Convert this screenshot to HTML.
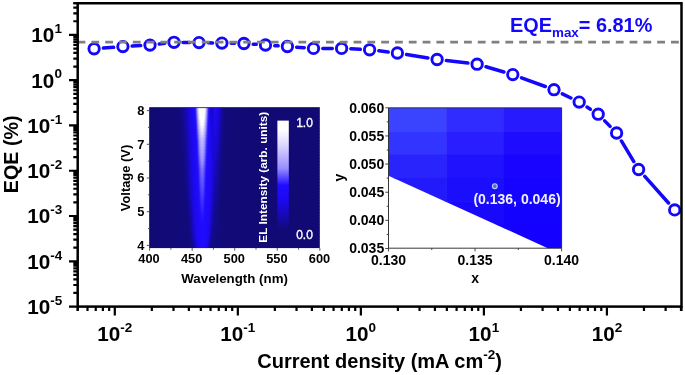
<!DOCTYPE html>
<html><head><meta charset="utf-8"><title>EQE vs current density</title>
<style>html,body{margin:0;padding:0;background:#fff}svg{display:block}text{font-kerning:normal}</style>
</head><body>
<svg width="685" height="375" viewBox="0 0 685 375" font-family='"Liberation Sans", Arial, Helvetica, sans-serif' font-weight="bold">
<rect width="685" height="375" fill="#fff"/>
<path d="M69.00 306.58H77.70M73.30 292.95H77.70M73.30 284.98H77.70M73.30 279.32H77.70M73.30 274.93H77.70M73.30 271.35H77.70M73.30 268.31H77.70M73.30 265.69H77.70M73.30 263.37H77.70M69.00 261.30H77.70M73.30 247.67H77.70M73.30 239.70H77.70M73.30 234.04H77.70M73.30 229.65H77.70M73.30 226.07H77.70M73.30 223.03H77.70M73.30 220.41H77.70M73.30 218.09H77.70M69.00 216.02H77.70M73.30 202.39H77.70M73.30 194.42H77.70M73.30 188.76H77.70M73.30 184.37H77.70M73.30 180.79H77.70M73.30 177.75H77.70M73.30 175.13H77.70M73.30 172.81H77.70M69.00 170.74H77.70M73.30 157.11H77.70M73.30 149.14H77.70M73.30 143.48H77.70M73.30 139.09H77.70M73.30 135.51H77.70M73.30 132.47H77.70M73.30 129.85H77.70M73.30 127.53H77.70M69.00 125.46H77.70M73.30 111.83H77.70M73.30 103.86H77.70M73.30 98.20H77.70M73.30 93.81H77.70M73.30 90.23H77.70M73.30 87.19H77.70M73.30 84.57H77.70M73.30 82.25H77.70M69.00 80.18H77.70M73.30 66.55H77.70M73.30 58.58H77.70M73.30 52.92H77.70M73.30 48.53H77.70M73.30 44.95H77.70M73.30 41.91H77.70M73.30 39.29H77.70M73.30 36.97H77.70M69.00 34.90H77.70M73.30 21.27H77.70M73.30 13.30H77.70M73.30 7.64H77.70M73.30 3.25H77.70M77.76 306.60V311.10M87.51 306.60V311.10M95.74 306.60V311.10M102.88 306.60V311.10M109.17 306.60V311.10M114.80 306.60V315.60M151.84 306.60V311.10M173.50 306.60V311.10M188.87 306.60V311.10M200.79 306.60V311.10M210.54 306.60V311.10M218.77 306.60V311.10M225.91 306.60V311.10M232.20 306.60V311.10M237.83 306.60V315.60M274.87 306.60V311.10M296.53 306.60V311.10M311.90 306.60V311.10M323.82 306.60V311.10M333.57 306.60V311.10M341.80 306.60V311.10M348.94 306.60V311.10M355.23 306.60V311.10M360.86 306.60V315.60M397.90 306.60V311.10M419.56 306.60V311.10M434.93 306.60V311.10M446.85 306.60V311.10M456.60 306.60V311.10M464.83 306.60V311.10M471.97 306.60V311.10M478.26 306.60V311.10M483.89 306.60V315.60M520.93 306.60V311.10M542.59 306.60V311.10M557.96 306.60V311.10M569.88 306.60V311.10M579.63 306.60V311.10M587.86 306.60V311.10M595.00 306.60V311.10M601.29 306.60V311.10M606.92 306.60V315.60M643.96 306.60V311.10M665.62 306.60V311.10M680.99 306.60V311.10" stroke="#000" stroke-width="2.2" fill="none"/>
<path d="M103.37 48.09L113.63 47.31M132.19 46.09L140.71 45.61M159.24 44.02L164.76 43.38M183.30 42.41L189.70 42.49M208.30 42.80L212.60 42.90M231.20 43.27L234.60 43.33M253.18 44.14L256.22 44.36M274.78 45.64L278.12 45.86M296.68 47.18L304.22 47.72M322.80 48.40L332.30 48.40M350.89 48.86L360.31 49.34M378.84 50.86L388.16 51.94M406.58 54.50L427.92 58.00M446.34 60.59L467.86 63.11M486.03 66.80L503.87 72.00M521.53 77.80L545.27 86.50M562.34 93.81L570.86 97.99M587.04 107.10L590.36 109.20M604.71 120.85L610.09 126.35M621.40 140.97L633.80 161.53M644.80 176.43L668.50 202.97" stroke="#1408fa" stroke-width="3.5" stroke-linecap="round" fill="none"/>
<g fill="#fff" stroke="#1408fa" stroke-width="2.9">
<circle cx="94.1" cy="48.8" r="5.2"/>
<circle cx="122.9" cy="46.6" r="5.2"/>
<circle cx="150.0" cy="45.1" r="5.2"/>
<circle cx="174.0" cy="42.3" r="5.2"/>
<circle cx="199.0" cy="42.6" r="5.2"/>
<circle cx="221.9" cy="43.1" r="5.2"/>
<circle cx="243.9" cy="43.5" r="5.2"/>
<circle cx="265.5" cy="45.0" r="5.2"/>
<circle cx="287.4" cy="46.5" r="5.2"/>
<circle cx="313.5" cy="48.4" r="5.2"/>
<circle cx="341.6" cy="48.4" r="5.2"/>
<circle cx="369.6" cy="49.8" r="5.2"/>
<circle cx="397.4" cy="53.0" r="5.2"/>
<circle cx="437.1" cy="59.5" r="5.2"/>
<circle cx="477.1" cy="64.2" r="5.2"/>
<circle cx="512.8" cy="74.6" r="5.2"/>
<circle cx="554.0" cy="89.7" r="5.2"/>
<circle cx="579.2" cy="102.1" r="5.2"/>
<circle cx="598.2" cy="114.2" r="5.2"/>
<circle cx="616.6" cy="133.0" r="5.2"/>
<circle cx="638.6" cy="169.5" r="5.2"/>
<circle cx="674.7" cy="209.9" r="5.2"/>
</g>
<path d="M77.6 42.05H681.5" stroke="#808080" stroke-width="2.8" stroke-dasharray="7.8 6" fill="none"/>
<rect x="77.7" y="3.25" width="603.80" height="303.35" fill="none" stroke="#000" stroke-width="2.5"/>
<path d="M77.7 306.6V311.1M681.5 306.6V311.1M77.7 3.25H73.3" stroke="#000" stroke-width="2.2"/>
<text x="62.30" y="313.98" font-size="20.7" text-anchor="end">10<tspan font-size="13.5" dy="-9.1">-5</tspan></text>
<text x="62.30" y="268.70" font-size="20.7" text-anchor="end">10<tspan font-size="13.5" dy="-9.1">-4</tspan></text>
<text x="62.30" y="223.42" font-size="20.7" text-anchor="end">10<tspan font-size="13.5" dy="-9.1">-3</tspan></text>
<text x="62.30" y="178.14" font-size="20.7" text-anchor="end">10<tspan font-size="13.5" dy="-9.1">-2</tspan></text>
<text x="62.30" y="132.86" font-size="20.7" text-anchor="end">10<tspan font-size="13.5" dy="-9.1">-1</tspan></text>
<text x="61.90" y="87.58" font-size="20.7" text-anchor="end">10<tspan font-size="13.5" dy="-9.1">0</tspan></text>
<text x="61.90" y="42.30" font-size="20.7" text-anchor="end">10<tspan font-size="13.5" dy="-9.1">1</tspan></text>
<text x="114.80" y="341.00" font-size="20.7" text-anchor="middle">10<tspan font-size="13.5" dy="-9.1">-2</tspan></text>
<text x="237.83" y="341.00" font-size="20.7" text-anchor="middle">10<tspan font-size="13.5" dy="-9.1">-1</tspan></text>
<text x="360.86" y="341.00" font-size="20.7" text-anchor="middle">10<tspan font-size="13.5" dy="-9.1">0</tspan></text>
<text x="483.89" y="341.00" font-size="20.7" text-anchor="middle">10<tspan font-size="13.5" dy="-9.1">1</tspan></text>
<text x="606.92" y="341.00" font-size="20.7" text-anchor="middle">10<tspan font-size="13.5" dy="-9.1">2</tspan></text>
<text x="379.6" y="367.8" font-size="20" text-anchor="middle">Current density (mA cm<tspan font-size="13.5" dy="-9">-2</tspan><tspan dy="9">)</tspan></text>
<text transform="translate(17.7 154.3) rotate(-90)" font-size="19.7" text-anchor="middle">EQE (%)</text>
<text x="510.0" y="32.1" font-size="19.9" fill="#1408fa">EQE<tspan font-size="13.4" dy="4.8">max</tspan><tspan dy="-4.8">= 6.81%</tspan></text>
<defs><linearGradient id="h0" gradientUnits="userSpaceOnUse" x1="149.6" x2="319.8" y1="0" y2="0"><stop offset="0.000" stop-color="#110a75"/><stop offset="0.061" stop-color="#110a76"/><stop offset="0.120" stop-color="#110a77"/><stop offset="0.155" stop-color="#110a78"/><stop offset="0.161" stop-color="#110a78"/><stop offset="0.167" stop-color="#110a79"/><stop offset="0.173" stop-color="#110a7d"/><stop offset="0.179" stop-color="#120a81"/><stop offset="0.184" stop-color="#120a87"/><stop offset="0.190" stop-color="#13098e"/><stop offset="0.196" stop-color="#140996"/><stop offset="0.202" stop-color="#1509a0"/><stop offset="0.208" stop-color="#1609ab"/><stop offset="0.214" stop-color="#1709b7"/><stop offset="0.220" stop-color="#1809c3"/><stop offset="0.226" stop-color="#1908cf"/><stop offset="0.231" stop-color="#1a08db"/><stop offset="0.237" stop-color="#1b08e5"/><stop offset="0.243" stop-color="#1c08ec"/><stop offset="0.249" stop-color="#1d09ef"/><stop offset="0.255" stop-color="#1e0af3"/><stop offset="0.261" stop-color="#1e0af7"/><stop offset="0.267" stop-color="#200cfd"/><stop offset="0.273" stop-color="#4d3dff"/><stop offset="0.278" stop-color="#9b92ff"/><stop offset="0.284" stop-color="#ccc6ff"/><stop offset="0.290" stop-color="#fbfaff"/><stop offset="0.296" stop-color="#ffffff"/><stop offset="0.302" stop-color="#ffffff"/><stop offset="0.308" stop-color="#ffffff"/><stop offset="0.314" stop-color="#ffffff"/><stop offset="0.320" stop-color="#ffffff"/><stop offset="0.325" stop-color="#fcfcff"/><stop offset="0.331" stop-color="#cec8ff"/><stop offset="0.337" stop-color="#9d94ff"/><stop offset="0.343" stop-color="#4b3aff"/><stop offset="0.349" stop-color="#1f0bfa"/><stop offset="0.355" stop-color="#1d09ef"/><stop offset="0.361" stop-color="#1a08d2"/><stop offset="0.367" stop-color="#1609af"/><stop offset="0.373" stop-color="#1b08e0"/><stop offset="0.378" stop-color="#1e0af3"/><stop offset="0.384" stop-color="#1e0af6"/><stop offset="0.390" stop-color="#1e0af4"/><stop offset="0.396" stop-color="#1d09f0"/><stop offset="0.402" stop-color="#1c08e9"/><stop offset="0.408" stop-color="#1a08d6"/><stop offset="0.414" stop-color="#1809c2"/><stop offset="0.420" stop-color="#1609af"/><stop offset="0.425" stop-color="#15099e"/><stop offset="0.431" stop-color="#130990"/><stop offset="0.437" stop-color="#120a86"/><stop offset="0.443" stop-color="#120a7e"/><stop offset="0.449" stop-color="#110a79"/><stop offset="0.455" stop-color="#110a78"/><stop offset="0.461" stop-color="#110a78"/><stop offset="0.467" stop-color="#110a78"/><stop offset="0.472" stop-color="#110a78"/><stop offset="0.478" stop-color="#110a78"/><stop offset="0.508" stop-color="#110a77"/><stop offset="0.561" stop-color="#110a76"/><stop offset="0.649" stop-color="#110a75"/><stop offset="0.766" stop-color="#110a75"/><stop offset="0.884" stop-color="#110a74"/><stop offset="1.000" stop-color="#110a74"/></linearGradient><linearGradient id="h1" gradientUnits="userSpaceOnUse" x1="149.6" x2="319.8" y1="0" y2="0"><stop offset="0.000" stop-color="#110a75"/><stop offset="0.061" stop-color="#110a76"/><stop offset="0.120" stop-color="#110a77"/><stop offset="0.155" stop-color="#110a78"/><stop offset="0.161" stop-color="#110a78"/><stop offset="0.167" stop-color="#110a78"/><stop offset="0.173" stop-color="#110a7c"/><stop offset="0.179" stop-color="#120a80"/><stop offset="0.184" stop-color="#120a86"/><stop offset="0.190" stop-color="#130a8c"/><stop offset="0.196" stop-color="#140994"/><stop offset="0.202" stop-color="#15099e"/><stop offset="0.208" stop-color="#1609a9"/><stop offset="0.214" stop-color="#1709b4"/><stop offset="0.220" stop-color="#1809c1"/><stop offset="0.226" stop-color="#1908cd"/><stop offset="0.231" stop-color="#1a08d9"/><stop offset="0.237" stop-color="#1b08e4"/><stop offset="0.243" stop-color="#1c08ec"/><stop offset="0.249" stop-color="#1d09ef"/><stop offset="0.255" stop-color="#1d09f2"/><stop offset="0.261" stop-color="#1e0af6"/><stop offset="0.267" stop-color="#1f0bfc"/><stop offset="0.273" stop-color="#4433ff"/><stop offset="0.278" stop-color="#948aff"/><stop offset="0.284" stop-color="#c3bcff"/><stop offset="0.290" stop-color="#f1efff"/><stop offset="0.296" stop-color="#ffffff"/><stop offset="0.302" stop-color="#ffffff"/><stop offset="0.308" stop-color="#ffffff"/><stop offset="0.314" stop-color="#ffffff"/><stop offset="0.320" stop-color="#ffffff"/><stop offset="0.325" stop-color="#f2f1ff"/><stop offset="0.331" stop-color="#c5beff"/><stop offset="0.337" stop-color="#978dff"/><stop offset="0.343" stop-color="#4433ff"/><stop offset="0.349" stop-color="#1f0bfa"/><stop offset="0.355" stop-color="#1d09ef"/><stop offset="0.361" stop-color="#1a08d6"/><stop offset="0.367" stop-color="#1709b3"/><stop offset="0.373" stop-color="#1b08df"/><stop offset="0.378" stop-color="#1d09f2"/><stop offset="0.384" stop-color="#1e0af4"/><stop offset="0.390" stop-color="#1d09f2"/><stop offset="0.396" stop-color="#1d09ee"/><stop offset="0.402" stop-color="#1b08e5"/><stop offset="0.408" stop-color="#1a08d2"/><stop offset="0.414" stop-color="#1809be"/><stop offset="0.420" stop-color="#1609ac"/><stop offset="0.425" stop-color="#14099b"/><stop offset="0.431" stop-color="#13098e"/><stop offset="0.437" stop-color="#120a84"/><stop offset="0.443" stop-color="#110a7d"/><stop offset="0.449" stop-color="#110a78"/><stop offset="0.455" stop-color="#110a78"/><stop offset="0.461" stop-color="#110a78"/><stop offset="0.467" stop-color="#110a78"/><stop offset="0.472" stop-color="#110a78"/><stop offset="0.478" stop-color="#110a78"/><stop offset="0.508" stop-color="#110a77"/><stop offset="0.561" stop-color="#110a76"/><stop offset="0.649" stop-color="#110a75"/><stop offset="0.766" stop-color="#110a75"/><stop offset="0.884" stop-color="#110a74"/><stop offset="1.000" stop-color="#110a74"/></linearGradient><linearGradient id="h2" gradientUnits="userSpaceOnUse" x1="149.6" x2="319.8" y1="0" y2="0"><stop offset="0.000" stop-color="#110a75"/><stop offset="0.061" stop-color="#110a76"/><stop offset="0.120" stop-color="#110a77"/><stop offset="0.155" stop-color="#110a78"/><stop offset="0.161" stop-color="#110a78"/><stop offset="0.167" stop-color="#110a78"/><stop offset="0.173" stop-color="#110a7b"/><stop offset="0.179" stop-color="#120a7f"/><stop offset="0.184" stop-color="#120a84"/><stop offset="0.190" stop-color="#130a8b"/><stop offset="0.196" stop-color="#140992"/><stop offset="0.202" stop-color="#14099c"/><stop offset="0.208" stop-color="#1509a6"/><stop offset="0.214" stop-color="#1709b2"/><stop offset="0.220" stop-color="#1809bf"/><stop offset="0.226" stop-color="#1909cb"/><stop offset="0.231" stop-color="#1a08d7"/><stop offset="0.237" stop-color="#1b08e3"/><stop offset="0.243" stop-color="#1c08ec"/><stop offset="0.249" stop-color="#1d09ef"/><stop offset="0.255" stop-color="#1d09f2"/><stop offset="0.261" stop-color="#1e0af6"/><stop offset="0.267" stop-color="#1f0bfb"/><stop offset="0.273" stop-color="#3b29ff"/><stop offset="0.278" stop-color="#857aff"/><stop offset="0.284" stop-color="#b9b2ff"/><stop offset="0.290" stop-color="#e7e3ff"/><stop offset="0.296" stop-color="#ffffff"/><stop offset="0.302" stop-color="#ffffff"/><stop offset="0.308" stop-color="#ffffff"/><stop offset="0.314" stop-color="#ffffff"/><stop offset="0.320" stop-color="#ffffff"/><stop offset="0.325" stop-color="#e9e5ff"/><stop offset="0.331" stop-color="#bcb5ff"/><stop offset="0.337" stop-color="#8b81ff"/><stop offset="0.343" stop-color="#3d2cff"/><stop offset="0.349" stop-color="#1f0bfa"/><stop offset="0.355" stop-color="#1d09f0"/><stop offset="0.361" stop-color="#1a08da"/><stop offset="0.367" stop-color="#1709b8"/><stop offset="0.373" stop-color="#1b08df"/><stop offset="0.378" stop-color="#1d09f1"/><stop offset="0.384" stop-color="#1e0af3"/><stop offset="0.390" stop-color="#1d09f1"/><stop offset="0.396" stop-color="#1c08ed"/><stop offset="0.402" stop-color="#1b08e1"/><stop offset="0.408" stop-color="#1908ce"/><stop offset="0.414" stop-color="#1709bb"/><stop offset="0.420" stop-color="#1609a9"/><stop offset="0.425" stop-color="#140999"/><stop offset="0.431" stop-color="#130a8d"/><stop offset="0.437" stop-color="#120a83"/><stop offset="0.443" stop-color="#110a7c"/><stop offset="0.449" stop-color="#110a78"/><stop offset="0.455" stop-color="#110a78"/><stop offset="0.461" stop-color="#110a78"/><stop offset="0.467" stop-color="#110a78"/><stop offset="0.472" stop-color="#110a78"/><stop offset="0.478" stop-color="#110a78"/><stop offset="0.508" stop-color="#110a77"/><stop offset="0.561" stop-color="#110a76"/><stop offset="0.649" stop-color="#110a75"/><stop offset="0.766" stop-color="#110a75"/><stop offset="0.884" stop-color="#110a74"/><stop offset="1.000" stop-color="#110a74"/></linearGradient><linearGradient id="h3" gradientUnits="userSpaceOnUse" x1="149.6" x2="319.8" y1="0" y2="0"><stop offset="0.000" stop-color="#110a75"/><stop offset="0.061" stop-color="#110a76"/><stop offset="0.120" stop-color="#110a77"/><stop offset="0.155" stop-color="#110a78"/><stop offset="0.161" stop-color="#110a78"/><stop offset="0.167" stop-color="#110a78"/><stop offset="0.173" stop-color="#110a7a"/><stop offset="0.179" stop-color="#120a7e"/><stop offset="0.184" stop-color="#120a83"/><stop offset="0.190" stop-color="#130a89"/><stop offset="0.196" stop-color="#130991"/><stop offset="0.202" stop-color="#14099a"/><stop offset="0.208" stop-color="#1509a4"/><stop offset="0.214" stop-color="#1609b0"/><stop offset="0.220" stop-color="#1809bc"/><stop offset="0.226" stop-color="#1909c9"/><stop offset="0.231" stop-color="#1a08d5"/><stop offset="0.237" stop-color="#1b08e1"/><stop offset="0.243" stop-color="#1c08eb"/><stop offset="0.249" stop-color="#1d09ee"/><stop offset="0.255" stop-color="#1d09f1"/><stop offset="0.261" stop-color="#1e0af5"/><stop offset="0.267" stop-color="#1f0bfa"/><stop offset="0.273" stop-color="#3220ff"/><stop offset="0.278" stop-color="#776aff"/><stop offset="0.284" stop-color="#b0a8ff"/><stop offset="0.290" stop-color="#ddd8ff"/><stop offset="0.296" stop-color="#fefeff"/><stop offset="0.302" stop-color="#ffffff"/><stop offset="0.308" stop-color="#ffffff"/><stop offset="0.314" stop-color="#ffffff"/><stop offset="0.320" stop-color="#ffffff"/><stop offset="0.325" stop-color="#dfdaff"/><stop offset="0.331" stop-color="#b3abff"/><stop offset="0.337" stop-color="#7e72ff"/><stop offset="0.343" stop-color="#3725ff"/><stop offset="0.349" stop-color="#1f0bf9"/><stop offset="0.355" stop-color="#1d09f0"/><stop offset="0.361" stop-color="#1b08dd"/><stop offset="0.367" stop-color="#1709bc"/><stop offset="0.373" stop-color="#1b08de"/><stop offset="0.378" stop-color="#1d09f0"/><stop offset="0.384" stop-color="#1d09f2"/><stop offset="0.390" stop-color="#1d09ef"/><stop offset="0.396" stop-color="#1c08eb"/><stop offset="0.402" stop-color="#1b08dc"/><stop offset="0.408" stop-color="#1909ca"/><stop offset="0.414" stop-color="#1709b8"/><stop offset="0.420" stop-color="#1509a6"/><stop offset="0.425" stop-color="#140997"/><stop offset="0.431" stop-color="#130a8b"/><stop offset="0.437" stop-color="#120a82"/><stop offset="0.443" stop-color="#110a7c"/><stop offset="0.449" stop-color="#110a78"/><stop offset="0.455" stop-color="#110a78"/><stop offset="0.461" stop-color="#110a78"/><stop offset="0.467" stop-color="#110a78"/><stop offset="0.472" stop-color="#110a78"/><stop offset="0.478" stop-color="#110a78"/><stop offset="0.508" stop-color="#110a77"/><stop offset="0.561" stop-color="#110a76"/><stop offset="0.649" stop-color="#110a75"/><stop offset="0.766" stop-color="#110a75"/><stop offset="0.884" stop-color="#110a74"/><stop offset="1.000" stop-color="#110a74"/></linearGradient><linearGradient id="h4" gradientUnits="userSpaceOnUse" x1="149.6" x2="319.8" y1="0" y2="0"><stop offset="0.000" stop-color="#110a75"/><stop offset="0.061" stop-color="#110a76"/><stop offset="0.120" stop-color="#110a77"/><stop offset="0.155" stop-color="#110a78"/><stop offset="0.161" stop-color="#110a78"/><stop offset="0.167" stop-color="#110a78"/><stop offset="0.173" stop-color="#110a79"/><stop offset="0.179" stop-color="#110a7d"/><stop offset="0.184" stop-color="#120a82"/><stop offset="0.190" stop-color="#120a88"/><stop offset="0.196" stop-color="#13098f"/><stop offset="0.202" stop-color="#140998"/><stop offset="0.208" stop-color="#1509a2"/><stop offset="0.214" stop-color="#1609ae"/><stop offset="0.220" stop-color="#1709ba"/><stop offset="0.226" stop-color="#1909c7"/><stop offset="0.231" stop-color="#1a08d4"/><stop offset="0.237" stop-color="#1b08df"/><stop offset="0.243" stop-color="#1c08ea"/><stop offset="0.249" stop-color="#1d09ee"/><stop offset="0.255" stop-color="#1d09f1"/><stop offset="0.261" stop-color="#1e0af5"/><stop offset="0.267" stop-color="#1f0bf9"/><stop offset="0.273" stop-color="#2a17ff"/><stop offset="0.278" stop-color="#695bff"/><stop offset="0.284" stop-color="#a69eff"/><stop offset="0.290" stop-color="#d0cbff"/><stop offset="0.296" stop-color="#f2f0ff"/><stop offset="0.302" stop-color="#ffffff"/><stop offset="0.308" stop-color="#ffffff"/><stop offset="0.314" stop-color="#ffffff"/><stop offset="0.320" stop-color="#f3f2ff"/><stop offset="0.325" stop-color="#d3cdff"/><stop offset="0.331" stop-color="#aaa1ff"/><stop offset="0.337" stop-color="#7164ff"/><stop offset="0.343" stop-color="#301eff"/><stop offset="0.349" stop-color="#1f0bf9"/><stop offset="0.355" stop-color="#1d09f1"/><stop offset="0.361" stop-color="#1b08e1"/><stop offset="0.367" stop-color="#1809c0"/><stop offset="0.373" stop-color="#1b08dd"/><stop offset="0.378" stop-color="#1d09ef"/><stop offset="0.384" stop-color="#1d09f0"/><stop offset="0.390" stop-color="#1d09ee"/><stop offset="0.396" stop-color="#1c08e8"/><stop offset="0.402" stop-color="#1a08d8"/><stop offset="0.408" stop-color="#1909c7"/><stop offset="0.414" stop-color="#1709b5"/><stop offset="0.420" stop-color="#1509a4"/><stop offset="0.425" stop-color="#140995"/><stop offset="0.431" stop-color="#130a8a"/><stop offset="0.437" stop-color="#120a81"/><stop offset="0.443" stop-color="#110a7b"/><stop offset="0.449" stop-color="#110a78"/><stop offset="0.455" stop-color="#110a78"/><stop offset="0.461" stop-color="#110a78"/><stop offset="0.467" stop-color="#110a78"/><stop offset="0.472" stop-color="#110a78"/><stop offset="0.478" stop-color="#110a78"/><stop offset="0.508" stop-color="#110a77"/><stop offset="0.561" stop-color="#110a76"/><stop offset="0.649" stop-color="#110a75"/><stop offset="0.766" stop-color="#110a75"/><stop offset="0.884" stop-color="#110a74"/><stop offset="1.000" stop-color="#110a74"/></linearGradient><linearGradient id="h5" gradientUnits="userSpaceOnUse" x1="149.6" x2="319.8" y1="0" y2="0"><stop offset="0.000" stop-color="#110a75"/><stop offset="0.061" stop-color="#110a76"/><stop offset="0.120" stop-color="#110a77"/><stop offset="0.155" stop-color="#110a78"/><stop offset="0.161" stop-color="#110a78"/><stop offset="0.167" stop-color="#110a78"/><stop offset="0.173" stop-color="#110a79"/><stop offset="0.179" stop-color="#110a7c"/><stop offset="0.184" stop-color="#120a80"/><stop offset="0.190" stop-color="#120a86"/><stop offset="0.196" stop-color="#130a8d"/><stop offset="0.202" stop-color="#140996"/><stop offset="0.208" stop-color="#1509a0"/><stop offset="0.214" stop-color="#1609ac"/><stop offset="0.220" stop-color="#1709b8"/><stop offset="0.226" stop-color="#1809c5"/><stop offset="0.231" stop-color="#1a08d2"/><stop offset="0.237" stop-color="#1b08de"/><stop offset="0.243" stop-color="#1c08e9"/><stop offset="0.249" stop-color="#1d09ee"/><stop offset="0.255" stop-color="#1d09f1"/><stop offset="0.261" stop-color="#1e0af4"/><stop offset="0.267" stop-color="#1f0bf9"/><stop offset="0.273" stop-color="#210dff"/><stop offset="0.278" stop-color="#5b4cff"/><stop offset="0.284" stop-color="#9d94ff"/><stop offset="0.290" stop-color="#c3bdff"/><stop offset="0.296" stop-color="#e6e2ff"/><stop offset="0.302" stop-color="#fafaff"/><stop offset="0.308" stop-color="#ffffff"/><stop offset="0.314" stop-color="#fbfaff"/><stop offset="0.320" stop-color="#e7e3ff"/><stop offset="0.325" stop-color="#c6c0ff"/><stop offset="0.331" stop-color="#a198ff"/><stop offset="0.337" stop-color="#6456ff"/><stop offset="0.343" stop-color="#2a17ff"/><stop offset="0.349" stop-color="#1f0bf9"/><stop offset="0.355" stop-color="#1d09f2"/><stop offset="0.361" stop-color="#1b08e4"/><stop offset="0.367" stop-color="#1809c4"/><stop offset="0.373" stop-color="#1b08dc"/><stop offset="0.378" stop-color="#1d09ee"/><stop offset="0.384" stop-color="#1d09ef"/><stop offset="0.390" stop-color="#1c08ed"/><stop offset="0.396" stop-color="#1b08e4"/><stop offset="0.402" stop-color="#1a08d5"/><stop offset="0.408" stop-color="#1809c3"/><stop offset="0.414" stop-color="#1609b2"/><stop offset="0.420" stop-color="#1509a1"/><stop offset="0.425" stop-color="#140993"/><stop offset="0.431" stop-color="#130a88"/><stop offset="0.437" stop-color="#120a80"/><stop offset="0.443" stop-color="#110a7a"/><stop offset="0.449" stop-color="#110a78"/><stop offset="0.455" stop-color="#110a78"/><stop offset="0.461" stop-color="#110a78"/><stop offset="0.467" stop-color="#110a78"/><stop offset="0.472" stop-color="#110a78"/><stop offset="0.478" stop-color="#110a78"/><stop offset="0.508" stop-color="#110a77"/><stop offset="0.561" stop-color="#110a76"/><stop offset="0.649" stop-color="#110a75"/><stop offset="0.766" stop-color="#110a75"/><stop offset="0.884" stop-color="#110a74"/><stop offset="1.000" stop-color="#110a74"/></linearGradient><linearGradient id="h6" gradientUnits="userSpaceOnUse" x1="149.6" x2="319.8" y1="0" y2="0"><stop offset="0.000" stop-color="#110a75"/><stop offset="0.061" stop-color="#110a76"/><stop offset="0.120" stop-color="#110a77"/><stop offset="0.155" stop-color="#110a78"/><stop offset="0.161" stop-color="#110a78"/><stop offset="0.167" stop-color="#110a78"/><stop offset="0.173" stop-color="#110a79"/><stop offset="0.179" stop-color="#110a7b"/><stop offset="0.184" stop-color="#120a7f"/><stop offset="0.190" stop-color="#120a85"/><stop offset="0.196" stop-color="#130a8c"/><stop offset="0.202" stop-color="#140994"/><stop offset="0.208" stop-color="#15099e"/><stop offset="0.214" stop-color="#1609a9"/><stop offset="0.220" stop-color="#1709b6"/><stop offset="0.226" stop-color="#1809c3"/><stop offset="0.231" stop-color="#1908d0"/><stop offset="0.237" stop-color="#1b08dc"/><stop offset="0.243" stop-color="#1c08e7"/><stop offset="0.249" stop-color="#1c08ed"/><stop offset="0.255" stop-color="#1d09f0"/><stop offset="0.261" stop-color="#1e0af4"/><stop offset="0.267" stop-color="#1f0bf8"/><stop offset="0.273" stop-color="#200cfe"/><stop offset="0.278" stop-color="#4f3fff"/><stop offset="0.284" stop-color="#968cff"/><stop offset="0.290" stop-color="#b9b2ff"/><stop offset="0.296" stop-color="#dcd7ff"/><stop offset="0.302" stop-color="#efedff"/><stop offset="0.308" stop-color="#f6f5ff"/><stop offset="0.314" stop-color="#f0eeff"/><stop offset="0.320" stop-color="#ddd8ff"/><stop offset="0.325" stop-color="#bcb5ff"/><stop offset="0.331" stop-color="#9a90ff"/><stop offset="0.337" stop-color="#5a4bff"/><stop offset="0.343" stop-color="#2511ff"/><stop offset="0.349" stop-color="#1f0bf9"/><stop offset="0.355" stop-color="#1d09f2"/><stop offset="0.361" stop-color="#1c08e8"/><stop offset="0.367" stop-color="#1909c9"/><stop offset="0.373" stop-color="#1a08da"/><stop offset="0.378" stop-color="#1c08ed"/><stop offset="0.384" stop-color="#1d09ee"/><stop offset="0.390" stop-color="#1c08eb"/><stop offset="0.396" stop-color="#1b08e0"/><stop offset="0.402" stop-color="#1908d1"/><stop offset="0.408" stop-color="#1809c0"/><stop offset="0.414" stop-color="#1609af"/><stop offset="0.420" stop-color="#15099f"/><stop offset="0.425" stop-color="#130991"/><stop offset="0.431" stop-color="#120a87"/><stop offset="0.437" stop-color="#120a7f"/><stop offset="0.443" stop-color="#110a79"/><stop offset="0.449" stop-color="#110a78"/><stop offset="0.455" stop-color="#110a78"/><stop offset="0.461" stop-color="#110a78"/><stop offset="0.467" stop-color="#110a78"/><stop offset="0.472" stop-color="#110a78"/><stop offset="0.478" stop-color="#110a78"/><stop offset="0.508" stop-color="#110a77"/><stop offset="0.561" stop-color="#110a76"/><stop offset="0.649" stop-color="#110a75"/><stop offset="0.766" stop-color="#110a75"/><stop offset="0.884" stop-color="#110a74"/><stop offset="1.000" stop-color="#110a74"/></linearGradient><linearGradient id="h7" gradientUnits="userSpaceOnUse" x1="149.6" x2="319.8" y1="0" y2="0"><stop offset="0.000" stop-color="#110a75"/><stop offset="0.061" stop-color="#110a76"/><stop offset="0.120" stop-color="#110a77"/><stop offset="0.155" stop-color="#110a78"/><stop offset="0.161" stop-color="#110a78"/><stop offset="0.167" stop-color="#110a78"/><stop offset="0.173" stop-color="#110a79"/><stop offset="0.179" stop-color="#110a7a"/><stop offset="0.184" stop-color="#120a7e"/><stop offset="0.190" stop-color="#120a83"/><stop offset="0.196" stop-color="#130a8a"/><stop offset="0.202" stop-color="#130992"/><stop offset="0.208" stop-color="#14099c"/><stop offset="0.214" stop-color="#1509a7"/><stop offset="0.220" stop-color="#1709b4"/><stop offset="0.226" stop-color="#1809c1"/><stop offset="0.231" stop-color="#1908ce"/><stop offset="0.237" stop-color="#1a08da"/><stop offset="0.243" stop-color="#1c08e6"/><stop offset="0.249" stop-color="#1c08ed"/><stop offset="0.255" stop-color="#1d09f0"/><stop offset="0.261" stop-color="#1e0af3"/><stop offset="0.267" stop-color="#1e0af7"/><stop offset="0.273" stop-color="#200cfd"/><stop offset="0.278" stop-color="#4635ff"/><stop offset="0.284" stop-color="#877cff"/><stop offset="0.290" stop-color="#b0a8ff"/><stop offset="0.296" stop-color="#d0caff"/><stop offset="0.302" stop-color="#e5e1ff"/><stop offset="0.308" stop-color="#ece9ff"/><stop offset="0.314" stop-color="#e6e2ff"/><stop offset="0.320" stop-color="#d2ccff"/><stop offset="0.325" stop-color="#b3abff"/><stop offset="0.331" stop-color="#9086ff"/><stop offset="0.337" stop-color="#5141ff"/><stop offset="0.343" stop-color="#210dff"/><stop offset="0.349" stop-color="#1f0bf9"/><stop offset="0.355" stop-color="#1e0af3"/><stop offset="0.361" stop-color="#1c08eb"/><stop offset="0.367" stop-color="#1908cd"/><stop offset="0.373" stop-color="#1a08d9"/><stop offset="0.378" stop-color="#1c08ec"/><stop offset="0.384" stop-color="#1c08ed"/><stop offset="0.390" stop-color="#1c08e8"/><stop offset="0.396" stop-color="#1b08dc"/><stop offset="0.402" stop-color="#1908cd"/><stop offset="0.408" stop-color="#1809bc"/><stop offset="0.414" stop-color="#1609ac"/><stop offset="0.420" stop-color="#14099c"/><stop offset="0.425" stop-color="#130990"/><stop offset="0.431" stop-color="#120a86"/><stop offset="0.437" stop-color="#120a7e"/><stop offset="0.443" stop-color="#110a79"/><stop offset="0.449" stop-color="#110a78"/><stop offset="0.455" stop-color="#110a78"/><stop offset="0.461" stop-color="#110a78"/><stop offset="0.467" stop-color="#110a78"/><stop offset="0.472" stop-color="#110a78"/><stop offset="0.478" stop-color="#110a78"/><stop offset="0.508" stop-color="#110a77"/><stop offset="0.561" stop-color="#110a76"/><stop offset="0.649" stop-color="#110a75"/><stop offset="0.766" stop-color="#110a75"/><stop offset="0.884" stop-color="#110a74"/><stop offset="1.000" stop-color="#110a74"/></linearGradient><linearGradient id="h8" gradientUnits="userSpaceOnUse" x1="149.6" x2="319.8" y1="0" y2="0"><stop offset="0.000" stop-color="#110a75"/><stop offset="0.061" stop-color="#110a76"/><stop offset="0.120" stop-color="#110a77"/><stop offset="0.155" stop-color="#110a78"/><stop offset="0.161" stop-color="#110a78"/><stop offset="0.167" stop-color="#110a78"/><stop offset="0.173" stop-color="#110a79"/><stop offset="0.179" stop-color="#110a79"/><stop offset="0.184" stop-color="#110a7d"/><stop offset="0.190" stop-color="#120a82"/><stop offset="0.196" stop-color="#130a88"/><stop offset="0.202" stop-color="#130990"/><stop offset="0.208" stop-color="#14099a"/><stop offset="0.214" stop-color="#1509a5"/><stop offset="0.220" stop-color="#1609b1"/><stop offset="0.226" stop-color="#1809be"/><stop offset="0.231" stop-color="#1908cc"/><stop offset="0.237" stop-color="#1a08d9"/><stop offset="0.243" stop-color="#1b08e5"/><stop offset="0.249" stop-color="#1c08ec"/><stop offset="0.255" stop-color="#1d09f0"/><stop offset="0.261" stop-color="#1e0af3"/><stop offset="0.267" stop-color="#1e0af7"/><stop offset="0.273" stop-color="#1f0bfc"/><stop offset="0.278" stop-color="#3c2aff"/><stop offset="0.284" stop-color="#786cff"/><stop offset="0.290" stop-color="#a79fff"/><stop offset="0.296" stop-color="#c5beff"/><stop offset="0.302" stop-color="#dbd6ff"/><stop offset="0.308" stop-color="#e1ddff"/><stop offset="0.314" stop-color="#dcd7ff"/><stop offset="0.320" stop-color="#c7c0ff"/><stop offset="0.325" stop-color="#aaa2ff"/><stop offset="0.331" stop-color="#8276ff"/><stop offset="0.337" stop-color="#4838ff"/><stop offset="0.343" stop-color="#200cfe"/><stop offset="0.349" stop-color="#1f0bf9"/><stop offset="0.355" stop-color="#1e0af3"/><stop offset="0.361" stop-color="#1c08ec"/><stop offset="0.367" stop-color="#1a08d1"/><stop offset="0.373" stop-color="#1a08d7"/><stop offset="0.378" stop-color="#1c08eb"/><stop offset="0.384" stop-color="#1c08eb"/><stop offset="0.390" stop-color="#1b08e4"/><stop offset="0.396" stop-color="#1a08d8"/><stop offset="0.402" stop-color="#1909c9"/><stop offset="0.408" stop-color="#1709b9"/><stop offset="0.414" stop-color="#1609a9"/><stop offset="0.420" stop-color="#14099a"/><stop offset="0.425" stop-color="#13098e"/><stop offset="0.431" stop-color="#120a84"/><stop offset="0.437" stop-color="#110a7d"/><stop offset="0.443" stop-color="#110a79"/><stop offset="0.449" stop-color="#110a78"/><stop offset="0.455" stop-color="#110a78"/><stop offset="0.461" stop-color="#110a78"/><stop offset="0.467" stop-color="#110a78"/><stop offset="0.472" stop-color="#110a78"/><stop offset="0.478" stop-color="#110a78"/><stop offset="0.508" stop-color="#110a77"/><stop offset="0.561" stop-color="#110a76"/><stop offset="0.649" stop-color="#110a75"/><stop offset="0.766" stop-color="#110a75"/><stop offset="0.884" stop-color="#110a74"/><stop offset="1.000" stop-color="#110a74"/></linearGradient><linearGradient id="h9" gradientUnits="userSpaceOnUse" x1="149.6" x2="319.8" y1="0" y2="0"><stop offset="0.000" stop-color="#110a75"/><stop offset="0.061" stop-color="#110a76"/><stop offset="0.120" stop-color="#110a77"/><stop offset="0.155" stop-color="#110a78"/><stop offset="0.161" stop-color="#110a78"/><stop offset="0.167" stop-color="#110a78"/><stop offset="0.173" stop-color="#110a79"/><stop offset="0.179" stop-color="#110a79"/><stop offset="0.184" stop-color="#110a7c"/><stop offset="0.190" stop-color="#120a81"/><stop offset="0.196" stop-color="#120a87"/><stop offset="0.202" stop-color="#13098e"/><stop offset="0.208" stop-color="#140998"/><stop offset="0.214" stop-color="#1509a3"/><stop offset="0.220" stop-color="#1609af"/><stop offset="0.226" stop-color="#1809bc"/><stop offset="0.231" stop-color="#1909ca"/><stop offset="0.237" stop-color="#1a08d7"/><stop offset="0.243" stop-color="#1b08e3"/><stop offset="0.249" stop-color="#1c08ec"/><stop offset="0.255" stop-color="#1d09ef"/><stop offset="0.261" stop-color="#1d09f2"/><stop offset="0.267" stop-color="#1e0af6"/><stop offset="0.273" stop-color="#1f0bfb"/><stop offset="0.278" stop-color="#3320ff"/><stop offset="0.284" stop-color="#695cff"/><stop offset="0.290" stop-color="#9e95ff"/><stop offset="0.296" stop-color="#b9b2ff"/><stop offset="0.302" stop-color="#cdc7ff"/><stop offset="0.308" stop-color="#d5d0ff"/><stop offset="0.314" stop-color="#cec8ff"/><stop offset="0.320" stop-color="#bbb4ff"/><stop offset="0.325" stop-color="#a298ff"/><stop offset="0.331" stop-color="#7467ff"/><stop offset="0.337" stop-color="#402eff"/><stop offset="0.343" stop-color="#200cfe"/><stop offset="0.349" stop-color="#1f0bf8"/><stop offset="0.355" stop-color="#1e0af3"/><stop offset="0.361" stop-color="#1c08ed"/><stop offset="0.367" stop-color="#1a08d5"/><stop offset="0.373" stop-color="#1a08d6"/><stop offset="0.378" stop-color="#1c08e8"/><stop offset="0.384" stop-color="#1c08e8"/><stop offset="0.390" stop-color="#1b08e0"/><stop offset="0.396" stop-color="#1a08d4"/><stop offset="0.402" stop-color="#1809c6"/><stop offset="0.408" stop-color="#1709b6"/><stop offset="0.414" stop-color="#1509a6"/><stop offset="0.420" stop-color="#140998"/><stop offset="0.425" stop-color="#130a8c"/><stop offset="0.431" stop-color="#120a83"/><stop offset="0.437" stop-color="#110a7c"/><stop offset="0.443" stop-color="#110a79"/><stop offset="0.449" stop-color="#110a78"/><stop offset="0.455" stop-color="#110a78"/><stop offset="0.461" stop-color="#110a78"/><stop offset="0.467" stop-color="#110a78"/><stop offset="0.472" stop-color="#110a78"/><stop offset="0.478" stop-color="#110a78"/><stop offset="0.508" stop-color="#110a77"/><stop offset="0.561" stop-color="#110a76"/><stop offset="0.649" stop-color="#110a75"/><stop offset="0.766" stop-color="#110a75"/><stop offset="0.884" stop-color="#110a74"/><stop offset="1.000" stop-color="#110a74"/></linearGradient><linearGradient id="h10" gradientUnits="userSpaceOnUse" x1="149.6" x2="319.8" y1="0" y2="0"><stop offset="0.000" stop-color="#110a75"/><stop offset="0.061" stop-color="#110a76"/><stop offset="0.120" stop-color="#110a77"/><stop offset="0.155" stop-color="#110a78"/><stop offset="0.161" stop-color="#110a78"/><stop offset="0.167" stop-color="#110a78"/><stop offset="0.173" stop-color="#110a79"/><stop offset="0.179" stop-color="#110a79"/><stop offset="0.184" stop-color="#110a7b"/><stop offset="0.190" stop-color="#120a7f"/><stop offset="0.196" stop-color="#120a85"/><stop offset="0.202" stop-color="#130a8d"/><stop offset="0.208" stop-color="#140996"/><stop offset="0.214" stop-color="#1509a0"/><stop offset="0.220" stop-color="#1609ad"/><stop offset="0.226" stop-color="#1709ba"/><stop offset="0.231" stop-color="#1909c7"/><stop offset="0.237" stop-color="#1a08d5"/><stop offset="0.243" stop-color="#1b08e1"/><stop offset="0.249" stop-color="#1c08ec"/><stop offset="0.255" stop-color="#1d09ef"/><stop offset="0.261" stop-color="#1d09f2"/><stop offset="0.267" stop-color="#1e0af6"/><stop offset="0.273" stop-color="#1f0bfa"/><stop offset="0.278" stop-color="#2916ff"/><stop offset="0.284" stop-color="#5b4cff"/><stop offset="0.290" stop-color="#958bff"/><stop offset="0.296" stop-color="#aea6ff"/><stop offset="0.302" stop-color="#c0b9ff"/><stop offset="0.308" stop-color="#c7c1ff"/><stop offset="0.314" stop-color="#c1baff"/><stop offset="0.320" stop-color="#b0a8ff"/><stop offset="0.325" stop-color="#998fff"/><stop offset="0.331" stop-color="#6658ff"/><stop offset="0.337" stop-color="#3725ff"/><stop offset="0.343" stop-color="#200cfd"/><stop offset="0.349" stop-color="#1f0bf8"/><stop offset="0.355" stop-color="#1e0af4"/><stop offset="0.361" stop-color="#1d09ee"/><stop offset="0.367" stop-color="#1a08d9"/><stop offset="0.373" stop-color="#1a08d4"/><stop offset="0.378" stop-color="#1b08e5"/><stop offset="0.384" stop-color="#1b08e4"/><stop offset="0.390" stop-color="#1b08dc"/><stop offset="0.396" stop-color="#1908d0"/><stop offset="0.402" stop-color="#1809c2"/><stop offset="0.408" stop-color="#1709b3"/><stop offset="0.414" stop-color="#1509a3"/><stop offset="0.420" stop-color="#140996"/><stop offset="0.425" stop-color="#130a8b"/><stop offset="0.431" stop-color="#120a82"/><stop offset="0.437" stop-color="#110a7c"/><stop offset="0.443" stop-color="#110a79"/><stop offset="0.449" stop-color="#110a78"/><stop offset="0.455" stop-color="#110a78"/><stop offset="0.461" stop-color="#110a78"/><stop offset="0.467" stop-color="#110a78"/><stop offset="0.472" stop-color="#110a78"/><stop offset="0.478" stop-color="#110a78"/><stop offset="0.508" stop-color="#110a77"/><stop offset="0.561" stop-color="#110a76"/><stop offset="0.649" stop-color="#110a75"/><stop offset="0.766" stop-color="#110a75"/><stop offset="0.884" stop-color="#110a74"/><stop offset="1.000" stop-color="#110a74"/></linearGradient><linearGradient id="h11" gradientUnits="userSpaceOnUse" x1="149.6" x2="319.8" y1="0" y2="0"><stop offset="0.000" stop-color="#110a75"/><stop offset="0.061" stop-color="#110a76"/><stop offset="0.120" stop-color="#110a77"/><stop offset="0.155" stop-color="#110a78"/><stop offset="0.161" stop-color="#110a78"/><stop offset="0.167" stop-color="#110a78"/><stop offset="0.173" stop-color="#110a79"/><stop offset="0.179" stop-color="#110a79"/><stop offset="0.184" stop-color="#110a7a"/><stop offset="0.190" stop-color="#120a7e"/><stop offset="0.196" stop-color="#120a84"/><stop offset="0.202" stop-color="#130a8b"/><stop offset="0.208" stop-color="#140994"/><stop offset="0.214" stop-color="#15099f"/><stop offset="0.220" stop-color="#1609ab"/><stop offset="0.226" stop-color="#1709b8"/><stop offset="0.231" stop-color="#1809c6"/><stop offset="0.237" stop-color="#1a08d3"/><stop offset="0.243" stop-color="#1b08e0"/><stop offset="0.249" stop-color="#1c08eb"/><stop offset="0.255" stop-color="#1d09ef"/><stop offset="0.261" stop-color="#1d09f2"/><stop offset="0.267" stop-color="#1e0af5"/><stop offset="0.273" stop-color="#1f0bfa"/><stop offset="0.278" stop-color="#2410ff"/><stop offset="0.284" stop-color="#5242ff"/><stop offset="0.290" stop-color="#897eff"/><stop offset="0.296" stop-color="#a79eff"/><stop offset="0.302" stop-color="#b8b1ff"/><stop offset="0.308" stop-color="#bfb8ff"/><stop offset="0.314" stop-color="#b9b2ff"/><stop offset="0.320" stop-color="#a9a1ff"/><stop offset="0.325" stop-color="#9186ff"/><stop offset="0.331" stop-color="#5d4eff"/><stop offset="0.337" stop-color="#3220ff"/><stop offset="0.343" stop-color="#200cfd"/><stop offset="0.349" stop-color="#1f0bf8"/><stop offset="0.355" stop-color="#1e0af4"/><stop offset="0.361" stop-color="#1d09ee"/><stop offset="0.367" stop-color="#1b08dc"/><stop offset="0.373" stop-color="#1a08d2"/><stop offset="0.378" stop-color="#1b08e2"/><stop offset="0.384" stop-color="#1b08e0"/><stop offset="0.390" stop-color="#1a08d8"/><stop offset="0.396" stop-color="#1908cc"/><stop offset="0.402" stop-color="#1809bf"/><stop offset="0.408" stop-color="#1609b0"/><stop offset="0.414" stop-color="#1509a1"/><stop offset="0.420" stop-color="#140994"/><stop offset="0.425" stop-color="#130a89"/><stop offset="0.431" stop-color="#120a81"/><stop offset="0.437" stop-color="#110a7b"/><stop offset="0.443" stop-color="#110a79"/><stop offset="0.449" stop-color="#110a78"/><stop offset="0.455" stop-color="#110a78"/><stop offset="0.461" stop-color="#110a78"/><stop offset="0.467" stop-color="#110a78"/><stop offset="0.472" stop-color="#110a78"/><stop offset="0.478" stop-color="#110a78"/><stop offset="0.508" stop-color="#110a77"/><stop offset="0.561" stop-color="#110a76"/><stop offset="0.649" stop-color="#110a75"/><stop offset="0.766" stop-color="#110a75"/><stop offset="0.884" stop-color="#110a74"/><stop offset="1.000" stop-color="#110a74"/></linearGradient><linearGradient id="h12" gradientUnits="userSpaceOnUse" x1="149.6" x2="319.8" y1="0" y2="0"><stop offset="0.000" stop-color="#110a75"/><stop offset="0.061" stop-color="#110a76"/><stop offset="0.120" stop-color="#110a77"/><stop offset="0.155" stop-color="#110a78"/><stop offset="0.161" stop-color="#110a78"/><stop offset="0.167" stop-color="#110a78"/><stop offset="0.173" stop-color="#110a79"/><stop offset="0.179" stop-color="#110a79"/><stop offset="0.184" stop-color="#110a79"/><stop offset="0.190" stop-color="#110a7d"/><stop offset="0.196" stop-color="#120a83"/><stop offset="0.202" stop-color="#130a8a"/><stop offset="0.208" stop-color="#140993"/><stop offset="0.214" stop-color="#15099d"/><stop offset="0.220" stop-color="#1609a9"/><stop offset="0.226" stop-color="#1709b7"/><stop offset="0.231" stop-color="#1809c4"/><stop offset="0.237" stop-color="#1a08d2"/><stop offset="0.243" stop-color="#1b08df"/><stop offset="0.249" stop-color="#1c08eb"/><stop offset="0.255" stop-color="#1d09ee"/><stop offset="0.261" stop-color="#1d09f2"/><stop offset="0.267" stop-color="#1e0af5"/><stop offset="0.273" stop-color="#1f0bf9"/><stop offset="0.278" stop-color="#200cff"/><stop offset="0.284" stop-color="#4c3cff"/><stop offset="0.290" stop-color="#8074ff"/><stop offset="0.296" stop-color="#a39aff"/><stop offset="0.302" stop-color="#b3abff"/><stop offset="0.308" stop-color="#b9b2ff"/><stop offset="0.314" stop-color="#b4acff"/><stop offset="0.320" stop-color="#a59cff"/><stop offset="0.325" stop-color="#887dff"/><stop offset="0.331" stop-color="#5748ff"/><stop offset="0.337" stop-color="#2e1bff"/><stop offset="0.343" stop-color="#1f0bfc"/><stop offset="0.349" stop-color="#1f0bf8"/><stop offset="0.355" stop-color="#1e0af4"/><stop offset="0.361" stop-color="#1d09ef"/><stop offset="0.367" stop-color="#1b08dd"/><stop offset="0.373" stop-color="#1908d1"/><stop offset="0.378" stop-color="#1b08de"/><stop offset="0.384" stop-color="#1b08dc"/><stop offset="0.390" stop-color="#1a08d4"/><stop offset="0.396" stop-color="#1909c9"/><stop offset="0.402" stop-color="#1709bb"/><stop offset="0.408" stop-color="#1609ad"/><stop offset="0.414" stop-color="#15099e"/><stop offset="0.420" stop-color="#130992"/><stop offset="0.425" stop-color="#120a88"/><stop offset="0.431" stop-color="#120a80"/><stop offset="0.437" stop-color="#110a7a"/><stop offset="0.443" stop-color="#110a79"/><stop offset="0.449" stop-color="#110a78"/><stop offset="0.455" stop-color="#110a78"/><stop offset="0.461" stop-color="#110a78"/><stop offset="0.467" stop-color="#110a78"/><stop offset="0.472" stop-color="#110a78"/><stop offset="0.478" stop-color="#110a78"/><stop offset="0.508" stop-color="#110a77"/><stop offset="0.561" stop-color="#110a76"/><stop offset="0.649" stop-color="#110a75"/><stop offset="0.766" stop-color="#110a75"/><stop offset="0.884" stop-color="#110a74"/><stop offset="1.000" stop-color="#110a74"/></linearGradient><linearGradient id="h13" gradientUnits="userSpaceOnUse" x1="149.6" x2="319.8" y1="0" y2="0"><stop offset="0.000" stop-color="#110a75"/><stop offset="0.061" stop-color="#110a76"/><stop offset="0.120" stop-color="#110a77"/><stop offset="0.155" stop-color="#110a78"/><stop offset="0.161" stop-color="#110a78"/><stop offset="0.167" stop-color="#110a78"/><stop offset="0.173" stop-color="#110a79"/><stop offset="0.179" stop-color="#110a79"/><stop offset="0.184" stop-color="#110a79"/><stop offset="0.190" stop-color="#110a7d"/><stop offset="0.196" stop-color="#120a82"/><stop offset="0.202" stop-color="#130a89"/><stop offset="0.208" stop-color="#130991"/><stop offset="0.214" stop-color="#14099c"/><stop offset="0.220" stop-color="#1609a8"/><stop offset="0.226" stop-color="#1709b5"/><stop offset="0.231" stop-color="#1809c3"/><stop offset="0.237" stop-color="#1a08d1"/><stop offset="0.243" stop-color="#1b08de"/><stop offset="0.249" stop-color="#1c08ea"/><stop offset="0.255" stop-color="#1d09ee"/><stop offset="0.261" stop-color="#1d09f1"/><stop offset="0.267" stop-color="#1e0af5"/><stop offset="0.273" stop-color="#1f0bf9"/><stop offset="0.278" stop-color="#200cfe"/><stop offset="0.284" stop-color="#4635ff"/><stop offset="0.290" stop-color="#786bff"/><stop offset="0.296" stop-color="#9e95ff"/><stop offset="0.302" stop-color="#aea5ff"/><stop offset="0.308" stop-color="#b4acff"/><stop offset="0.314" stop-color="#afa6ff"/><stop offset="0.320" stop-color="#a097ff"/><stop offset="0.325" stop-color="#8074ff"/><stop offset="0.331" stop-color="#5141ff"/><stop offset="0.337" stop-color="#2b18ff"/><stop offset="0.343" stop-color="#1f0bfc"/><stop offset="0.349" stop-color="#1f0bf8"/><stop offset="0.355" stop-color="#1e0af4"/><stop offset="0.361" stop-color="#1d09ef"/><stop offset="0.367" stop-color="#1b08df"/><stop offset="0.373" stop-color="#1908cf"/><stop offset="0.378" stop-color="#1a08db"/><stop offset="0.384" stop-color="#1a08d9"/><stop offset="0.390" stop-color="#1908d1"/><stop offset="0.396" stop-color="#1809c5"/><stop offset="0.402" stop-color="#1709b8"/><stop offset="0.408" stop-color="#1609aa"/><stop offset="0.414" stop-color="#14099c"/><stop offset="0.420" stop-color="#130990"/><stop offset="0.425" stop-color="#120a86"/><stop offset="0.431" stop-color="#120a7f"/><stop offset="0.437" stop-color="#110a79"/><stop offset="0.443" stop-color="#110a79"/><stop offset="0.449" stop-color="#110a78"/><stop offset="0.455" stop-color="#110a78"/><stop offset="0.461" stop-color="#110a78"/><stop offset="0.467" stop-color="#110a78"/><stop offset="0.472" stop-color="#110a78"/><stop offset="0.478" stop-color="#110a78"/><stop offset="0.508" stop-color="#110a77"/><stop offset="0.561" stop-color="#110a76"/><stop offset="0.649" stop-color="#110a75"/><stop offset="0.766" stop-color="#110a75"/><stop offset="0.884" stop-color="#110a74"/><stop offset="1.000" stop-color="#110a74"/></linearGradient><linearGradient id="h14" gradientUnits="userSpaceOnUse" x1="149.6" x2="319.8" y1="0" y2="0"><stop offset="0.000" stop-color="#110a75"/><stop offset="0.061" stop-color="#110a76"/><stop offset="0.120" stop-color="#110a77"/><stop offset="0.155" stop-color="#110a78"/><stop offset="0.161" stop-color="#110a78"/><stop offset="0.167" stop-color="#110a78"/><stop offset="0.173" stop-color="#110a79"/><stop offset="0.179" stop-color="#110a79"/><stop offset="0.184" stop-color="#110a79"/><stop offset="0.190" stop-color="#110a7c"/><stop offset="0.196" stop-color="#120a81"/><stop offset="0.202" stop-color="#120a87"/><stop offset="0.208" stop-color="#130990"/><stop offset="0.214" stop-color="#14099a"/><stop offset="0.220" stop-color="#1509a6"/><stop offset="0.226" stop-color="#1709b3"/><stop offset="0.231" stop-color="#1809c2"/><stop offset="0.237" stop-color="#1908d0"/><stop offset="0.243" stop-color="#1b08dd"/><stop offset="0.249" stop-color="#1c08e9"/><stop offset="0.255" stop-color="#1d09ee"/><stop offset="0.261" stop-color="#1d09f1"/><stop offset="0.267" stop-color="#1e0af4"/><stop offset="0.273" stop-color="#1f0bf8"/><stop offset="0.278" stop-color="#200cfe"/><stop offset="0.284" stop-color="#402fff"/><stop offset="0.290" stop-color="#6f62ff"/><stop offset="0.296" stop-color="#9990ff"/><stop offset="0.302" stop-color="#a8a0ff"/><stop offset="0.308" stop-color="#aea6ff"/><stop offset="0.314" stop-color="#a9a1ff"/><stop offset="0.320" stop-color="#9b92ff"/><stop offset="0.325" stop-color="#776aff"/><stop offset="0.331" stop-color="#4b3bff"/><stop offset="0.337" stop-color="#2714ff"/><stop offset="0.343" stop-color="#1f0bfc"/><stop offset="0.349" stop-color="#1f0bf8"/><stop offset="0.355" stop-color="#1e0af4"/><stop offset="0.361" stop-color="#1d09ef"/><stop offset="0.367" stop-color="#1b08e1"/><stop offset="0.373" stop-color="#1908cc"/><stop offset="0.378" stop-color="#1a08d7"/><stop offset="0.384" stop-color="#1a08d5"/><stop offset="0.390" stop-color="#1908cd"/><stop offset="0.396" stop-color="#1809c2"/><stop offset="0.402" stop-color="#1709b5"/><stop offset="0.408" stop-color="#1509a7"/><stop offset="0.414" stop-color="#14099a"/><stop offset="0.420" stop-color="#13098e"/><stop offset="0.425" stop-color="#120a85"/><stop offset="0.431" stop-color="#120a7e"/><stop offset="0.437" stop-color="#110a79"/><stop offset="0.443" stop-color="#110a79"/><stop offset="0.449" stop-color="#110a78"/><stop offset="0.455" stop-color="#110a78"/><stop offset="0.461" stop-color="#110a78"/><stop offset="0.467" stop-color="#110a78"/><stop offset="0.472" stop-color="#110a78"/><stop offset="0.478" stop-color="#110a78"/><stop offset="0.508" stop-color="#110a77"/><stop offset="0.561" stop-color="#110a76"/><stop offset="0.649" stop-color="#110a75"/><stop offset="0.766" stop-color="#110a75"/><stop offset="0.884" stop-color="#110a74"/><stop offset="1.000" stop-color="#110a74"/></linearGradient><linearGradient id="h15" gradientUnits="userSpaceOnUse" x1="149.6" x2="319.8" y1="0" y2="0"><stop offset="0.000" stop-color="#110a75"/><stop offset="0.061" stop-color="#110a76"/><stop offset="0.120" stop-color="#110a77"/><stop offset="0.155" stop-color="#110a78"/><stop offset="0.161" stop-color="#110a78"/><stop offset="0.167" stop-color="#110a78"/><stop offset="0.173" stop-color="#110a79"/><stop offset="0.179" stop-color="#110a79"/><stop offset="0.184" stop-color="#110a79"/><stop offset="0.190" stop-color="#110a7b"/><stop offset="0.196" stop-color="#120a80"/><stop offset="0.202" stop-color="#120a86"/><stop offset="0.208" stop-color="#13098e"/><stop offset="0.214" stop-color="#140998"/><stop offset="0.220" stop-color="#1509a4"/><stop offset="0.226" stop-color="#1709b2"/><stop offset="0.231" stop-color="#1809c0"/><stop offset="0.237" stop-color="#1908cf"/><stop offset="0.243" stop-color="#1b08dc"/><stop offset="0.249" stop-color="#1c08e9"/><stop offset="0.255" stop-color="#1d09ee"/><stop offset="0.261" stop-color="#1d09f1"/><stop offset="0.267" stop-color="#1e0af4"/><stop offset="0.273" stop-color="#1f0bf8"/><stop offset="0.278" stop-color="#200cfd"/><stop offset="0.284" stop-color="#3a29ff"/><stop offset="0.290" stop-color="#6759ff"/><stop offset="0.296" stop-color="#9389ff"/><stop offset="0.302" stop-color="#a39aff"/><stop offset="0.308" stop-color="#a9a0ff"/><stop offset="0.314" stop-color="#a49bff"/><stop offset="0.320" stop-color="#978dff"/><stop offset="0.325" stop-color="#6f61ff"/><stop offset="0.331" stop-color="#4635ff"/><stop offset="0.337" stop-color="#2410ff"/><stop offset="0.343" stop-color="#1f0bfb"/><stop offset="0.349" stop-color="#1f0bf8"/><stop offset="0.355" stop-color="#1e0af5"/><stop offset="0.361" stop-color="#1d09f0"/><stop offset="0.367" stop-color="#1b08e2"/><stop offset="0.373" stop-color="#1909ca"/><stop offset="0.378" stop-color="#1a08d4"/><stop offset="0.384" stop-color="#1a08d1"/><stop offset="0.390" stop-color="#1909c9"/><stop offset="0.396" stop-color="#1809be"/><stop offset="0.402" stop-color="#1609b1"/><stop offset="0.408" stop-color="#1509a4"/><stop offset="0.414" stop-color="#140997"/><stop offset="0.420" stop-color="#130a8c"/><stop offset="0.425" stop-color="#120a84"/><stop offset="0.431" stop-color="#110a7d"/><stop offset="0.437" stop-color="#110a79"/><stop offset="0.443" stop-color="#110a79"/><stop offset="0.449" stop-color="#110a78"/><stop offset="0.455" stop-color="#110a78"/><stop offset="0.461" stop-color="#110a78"/><stop offset="0.467" stop-color="#110a78"/><stop offset="0.472" stop-color="#110a78"/><stop offset="0.478" stop-color="#110a78"/><stop offset="0.508" stop-color="#110a77"/><stop offset="0.561" stop-color="#110a76"/><stop offset="0.649" stop-color="#110a75"/><stop offset="0.766" stop-color="#110a75"/><stop offset="0.884" stop-color="#110a74"/><stop offset="1.000" stop-color="#110a74"/></linearGradient><linearGradient id="h16" gradientUnits="userSpaceOnUse" x1="149.6" x2="319.8" y1="0" y2="0"><stop offset="0.000" stop-color="#110a75"/><stop offset="0.061" stop-color="#110a76"/><stop offset="0.120" stop-color="#110a77"/><stop offset="0.155" stop-color="#110a78"/><stop offset="0.161" stop-color="#110a78"/><stop offset="0.167" stop-color="#110a78"/><stop offset="0.173" stop-color="#110a79"/><stop offset="0.179" stop-color="#110a79"/><stop offset="0.184" stop-color="#110a79"/><stop offset="0.190" stop-color="#110a7a"/><stop offset="0.196" stop-color="#120a7f"/><stop offset="0.202" stop-color="#120a85"/><stop offset="0.208" stop-color="#130a8d"/><stop offset="0.214" stop-color="#140997"/><stop offset="0.220" stop-color="#1509a3"/><stop offset="0.226" stop-color="#1609b0"/><stop offset="0.231" stop-color="#1809bf"/><stop offset="0.237" stop-color="#1908cd"/><stop offset="0.243" stop-color="#1a08db"/><stop offset="0.249" stop-color="#1c08e8"/><stop offset="0.255" stop-color="#1d09ee"/><stop offset="0.261" stop-color="#1d09f1"/><stop offset="0.267" stop-color="#1e0af4"/><stop offset="0.273" stop-color="#1f0bf8"/><stop offset="0.278" stop-color="#1f0bfc"/><stop offset="0.284" stop-color="#3522ff"/><stop offset="0.290" stop-color="#5f50ff"/><stop offset="0.296" stop-color="#887dff"/><stop offset="0.302" stop-color="#9e94ff"/><stop offset="0.308" stop-color="#a39aff"/><stop offset="0.314" stop-color="#9f95ff"/><stop offset="0.320" stop-color="#8d82ff"/><stop offset="0.325" stop-color="#6658ff"/><stop offset="0.331" stop-color="#402fff"/><stop offset="0.337" stop-color="#200cff"/><stop offset="0.343" stop-color="#1f0bfb"/><stop offset="0.349" stop-color="#1f0bf8"/><stop offset="0.355" stop-color="#1e0af5"/><stop offset="0.361" stop-color="#1d09f0"/><stop offset="0.367" stop-color="#1b08e4"/><stop offset="0.373" stop-color="#1909c8"/><stop offset="0.378" stop-color="#1908d1"/><stop offset="0.384" stop-color="#1908ce"/><stop offset="0.390" stop-color="#1809c6"/><stop offset="0.396" stop-color="#1709bb"/><stop offset="0.402" stop-color="#1609ae"/><stop offset="0.408" stop-color="#1509a1"/><stop offset="0.414" stop-color="#140995"/><stop offset="0.420" stop-color="#130a8b"/><stop offset="0.425" stop-color="#120a82"/><stop offset="0.431" stop-color="#110a7c"/><stop offset="0.437" stop-color="#110a79"/><stop offset="0.443" stop-color="#110a79"/><stop offset="0.449" stop-color="#110a78"/><stop offset="0.455" stop-color="#110a78"/><stop offset="0.461" stop-color="#110a78"/><stop offset="0.467" stop-color="#110a78"/><stop offset="0.472" stop-color="#110a78"/><stop offset="0.478" stop-color="#110a78"/><stop offset="0.508" stop-color="#110a77"/><stop offset="0.561" stop-color="#110a76"/><stop offset="0.649" stop-color="#110a75"/><stop offset="0.766" stop-color="#110a75"/><stop offset="0.884" stop-color="#110a74"/><stop offset="1.000" stop-color="#110a74"/></linearGradient><linearGradient id="h17" gradientUnits="userSpaceOnUse" x1="149.6" x2="319.8" y1="0" y2="0"><stop offset="0.000" stop-color="#110a75"/><stop offset="0.061" stop-color="#110a76"/><stop offset="0.120" stop-color="#110a77"/><stop offset="0.155" stop-color="#110a78"/><stop offset="0.161" stop-color="#110a78"/><stop offset="0.167" stop-color="#110a78"/><stop offset="0.173" stop-color="#110a79"/><stop offset="0.179" stop-color="#110a79"/><stop offset="0.184" stop-color="#110a79"/><stop offset="0.190" stop-color="#110a7a"/><stop offset="0.196" stop-color="#120a7e"/><stop offset="0.202" stop-color="#120a84"/><stop offset="0.208" stop-color="#130a8c"/><stop offset="0.214" stop-color="#140995"/><stop offset="0.220" stop-color="#1509a1"/><stop offset="0.226" stop-color="#1609ae"/><stop offset="0.231" stop-color="#1809bd"/><stop offset="0.237" stop-color="#1908cc"/><stop offset="0.243" stop-color="#1a08da"/><stop offset="0.249" stop-color="#1c08e7"/><stop offset="0.255" stop-color="#1c08ed"/><stop offset="0.261" stop-color="#1d09f1"/><stop offset="0.267" stop-color="#1e0af4"/><stop offset="0.273" stop-color="#1e0af7"/><stop offset="0.278" stop-color="#1f0bfc"/><stop offset="0.284" stop-color="#2f1cff"/><stop offset="0.290" stop-color="#5647ff"/><stop offset="0.296" stop-color="#7e72ff"/><stop offset="0.302" stop-color="#988eff"/><stop offset="0.308" stop-color="#9d94ff"/><stop offset="0.314" stop-color="#998fff"/><stop offset="0.320" stop-color="#8277ff"/><stop offset="0.325" stop-color="#5e4fff"/><stop offset="0.331" stop-color="#3a28ff"/><stop offset="0.337" stop-color="#200cfe"/><stop offset="0.343" stop-color="#1f0bfb"/><stop offset="0.349" stop-color="#1f0bf8"/><stop offset="0.355" stop-color="#1e0af5"/><stop offset="0.361" stop-color="#1d09f0"/><stop offset="0.367" stop-color="#1b08e6"/><stop offset="0.373" stop-color="#1909c8"/><stop offset="0.378" stop-color="#1908cd"/><stop offset="0.384" stop-color="#1909ca"/><stop offset="0.390" stop-color="#1809c2"/><stop offset="0.396" stop-color="#1709b7"/><stop offset="0.402" stop-color="#1609ab"/><stop offset="0.408" stop-color="#15099f"/><stop offset="0.414" stop-color="#140993"/><stop offset="0.420" stop-color="#130a89"/><stop offset="0.425" stop-color="#120a81"/><stop offset="0.431" stop-color="#110a7b"/><stop offset="0.437" stop-color="#110a79"/><stop offset="0.443" stop-color="#110a79"/><stop offset="0.449" stop-color="#110a78"/><stop offset="0.455" stop-color="#110a78"/><stop offset="0.461" stop-color="#110a78"/><stop offset="0.467" stop-color="#110a78"/><stop offset="0.472" stop-color="#110a78"/><stop offset="0.478" stop-color="#110a78"/><stop offset="0.508" stop-color="#110a77"/><stop offset="0.561" stop-color="#110a76"/><stop offset="0.649" stop-color="#110a75"/><stop offset="0.766" stop-color="#110a75"/><stop offset="0.884" stop-color="#110a74"/><stop offset="1.000" stop-color="#110a74"/></linearGradient><linearGradient id="h18" gradientUnits="userSpaceOnUse" x1="149.6" x2="319.8" y1="0" y2="0"><stop offset="0.000" stop-color="#110a75"/><stop offset="0.061" stop-color="#110a76"/><stop offset="0.120" stop-color="#110a77"/><stop offset="0.155" stop-color="#110a78"/><stop offset="0.161" stop-color="#110a78"/><stop offset="0.167" stop-color="#110a78"/><stop offset="0.173" stop-color="#110a79"/><stop offset="0.179" stop-color="#110a79"/><stop offset="0.184" stop-color="#110a79"/><stop offset="0.190" stop-color="#110a79"/><stop offset="0.196" stop-color="#110a7d"/><stop offset="0.202" stop-color="#120a83"/><stop offset="0.208" stop-color="#130a8a"/><stop offset="0.214" stop-color="#140994"/><stop offset="0.220" stop-color="#15099f"/><stop offset="0.226" stop-color="#1609ad"/><stop offset="0.231" stop-color="#1709bb"/><stop offset="0.237" stop-color="#1909ca"/><stop offset="0.243" stop-color="#1a08d9"/><stop offset="0.249" stop-color="#1c08e6"/><stop offset="0.255" stop-color="#1c08ed"/><stop offset="0.261" stop-color="#1d09f0"/><stop offset="0.267" stop-color="#1e0af4"/><stop offset="0.273" stop-color="#1e0af7"/><stop offset="0.278" stop-color="#1f0bfb"/><stop offset="0.284" stop-color="#2916ff"/><stop offset="0.290" stop-color="#4e3eff"/><stop offset="0.296" stop-color="#7366ff"/><stop offset="0.302" stop-color="#8f84ff"/><stop offset="0.308" stop-color="#988eff"/><stop offset="0.314" stop-color="#9187ff"/><stop offset="0.320" stop-color="#786bff"/><stop offset="0.325" stop-color="#5647ff"/><stop offset="0.331" stop-color="#3522ff"/><stop offset="0.337" stop-color="#200cfe"/><stop offset="0.343" stop-color="#1f0bfa"/><stop offset="0.349" stop-color="#1f0bf8"/><stop offset="0.355" stop-color="#1e0af5"/><stop offset="0.361" stop-color="#1d09f1"/><stop offset="0.367" stop-color="#1c08e7"/><stop offset="0.373" stop-color="#1909ca"/><stop offset="0.378" stop-color="#1909ca"/><stop offset="0.384" stop-color="#1809c7"/><stop offset="0.390" stop-color="#1809bf"/><stop offset="0.396" stop-color="#1709b4"/><stop offset="0.402" stop-color="#1609a8"/><stop offset="0.408" stop-color="#14099c"/><stop offset="0.414" stop-color="#130991"/><stop offset="0.420" stop-color="#120a88"/><stop offset="0.425" stop-color="#120a80"/><stop offset="0.431" stop-color="#110a7a"/><stop offset="0.437" stop-color="#110a79"/><stop offset="0.443" stop-color="#110a79"/><stop offset="0.449" stop-color="#110a78"/><stop offset="0.455" stop-color="#110a78"/><stop offset="0.461" stop-color="#110a78"/><stop offset="0.467" stop-color="#110a78"/><stop offset="0.472" stop-color="#110a78"/><stop offset="0.478" stop-color="#110a78"/><stop offset="0.508" stop-color="#110a77"/><stop offset="0.561" stop-color="#110a76"/><stop offset="0.649" stop-color="#110a75"/><stop offset="0.766" stop-color="#110a75"/><stop offset="0.884" stop-color="#110a74"/><stop offset="1.000" stop-color="#110a74"/></linearGradient><linearGradient id="h19" gradientUnits="userSpaceOnUse" x1="149.6" x2="319.8" y1="0" y2="0"><stop offset="0.000" stop-color="#110a75"/><stop offset="0.061" stop-color="#110a76"/><stop offset="0.120" stop-color="#110a77"/><stop offset="0.155" stop-color="#110a78"/><stop offset="0.161" stop-color="#110a78"/><stop offset="0.167" stop-color="#110a78"/><stop offset="0.173" stop-color="#110a79"/><stop offset="0.179" stop-color="#110a79"/><stop offset="0.184" stop-color="#110a79"/><stop offset="0.190" stop-color="#110a79"/><stop offset="0.196" stop-color="#110a7c"/><stop offset="0.202" stop-color="#120a82"/><stop offset="0.208" stop-color="#130a89"/><stop offset="0.214" stop-color="#130992"/><stop offset="0.220" stop-color="#15099e"/><stop offset="0.226" stop-color="#1609ab"/><stop offset="0.231" stop-color="#1709ba"/><stop offset="0.237" stop-color="#1909c9"/><stop offset="0.243" stop-color="#1a08d8"/><stop offset="0.249" stop-color="#1b08e5"/><stop offset="0.255" stop-color="#1c08ed"/><stop offset="0.261" stop-color="#1d09f0"/><stop offset="0.267" stop-color="#1e0af3"/><stop offset="0.273" stop-color="#1e0af7"/><stop offset="0.278" stop-color="#1f0bfb"/><stop offset="0.284" stop-color="#2410ff"/><stop offset="0.290" stop-color="#4635ff"/><stop offset="0.296" stop-color="#685aff"/><stop offset="0.302" stop-color="#8276ff"/><stop offset="0.308" stop-color="#8d82ff"/><stop offset="0.314" stop-color="#8479ff"/><stop offset="0.320" stop-color="#6d60ff"/><stop offset="0.325" stop-color="#4e3eff"/><stop offset="0.331" stop-color="#2f1dff"/><stop offset="0.337" stop-color="#200cfd"/><stop offset="0.343" stop-color="#1f0bfa"/><stop offset="0.349" stop-color="#1f0bf8"/><stop offset="0.355" stop-color="#1e0af5"/><stop offset="0.361" stop-color="#1d09f1"/><stop offset="0.367" stop-color="#1c08e9"/><stop offset="0.373" stop-color="#1909cc"/><stop offset="0.378" stop-color="#1909c7"/><stop offset="0.384" stop-color="#1809c3"/><stop offset="0.390" stop-color="#1709bb"/><stop offset="0.396" stop-color="#1609b1"/><stop offset="0.402" stop-color="#1509a6"/><stop offset="0.408" stop-color="#14099a"/><stop offset="0.414" stop-color="#13098f"/><stop offset="0.420" stop-color="#120a86"/><stop offset="0.425" stop-color="#120a7f"/><stop offset="0.431" stop-color="#110a7a"/><stop offset="0.437" stop-color="#110a79"/><stop offset="0.443" stop-color="#110a79"/><stop offset="0.449" stop-color="#110a78"/><stop offset="0.455" stop-color="#110a78"/><stop offset="0.461" stop-color="#110a78"/><stop offset="0.467" stop-color="#110a78"/><stop offset="0.472" stop-color="#110a78"/><stop offset="0.478" stop-color="#110a78"/><stop offset="0.508" stop-color="#110a77"/><stop offset="0.561" stop-color="#110a76"/><stop offset="0.649" stop-color="#110a75"/><stop offset="0.766" stop-color="#110a75"/><stop offset="0.884" stop-color="#110a74"/><stop offset="1.000" stop-color="#110a74"/></linearGradient><linearGradient id="h20" gradientUnits="userSpaceOnUse" x1="149.6" x2="319.8" y1="0" y2="0"><stop offset="0.000" stop-color="#110a75"/><stop offset="0.061" stop-color="#110a76"/><stop offset="0.120" stop-color="#110a77"/><stop offset="0.155" stop-color="#110a78"/><stop offset="0.161" stop-color="#110a78"/><stop offset="0.167" stop-color="#110a78"/><stop offset="0.173" stop-color="#110a79"/><stop offset="0.179" stop-color="#110a79"/><stop offset="0.184" stop-color="#110a79"/><stop offset="0.190" stop-color="#110a79"/><stop offset="0.196" stop-color="#110a7b"/><stop offset="0.202" stop-color="#120a81"/><stop offset="0.208" stop-color="#120a88"/><stop offset="0.214" stop-color="#130991"/><stop offset="0.220" stop-color="#14099c"/><stop offset="0.226" stop-color="#1609a9"/><stop offset="0.231" stop-color="#1709b8"/><stop offset="0.237" stop-color="#1909c8"/><stop offset="0.243" stop-color="#1a08d7"/><stop offset="0.249" stop-color="#1b08e4"/><stop offset="0.255" stop-color="#1c08ed"/><stop offset="0.261" stop-color="#1d09f0"/><stop offset="0.267" stop-color="#1e0af3"/><stop offset="0.273" stop-color="#1e0af6"/><stop offset="0.278" stop-color="#1f0bfa"/><stop offset="0.284" stop-color="#200cff"/><stop offset="0.290" stop-color="#3e2dff"/><stop offset="0.296" stop-color="#5e4fff"/><stop offset="0.302" stop-color="#7669ff"/><stop offset="0.308" stop-color="#7f73ff"/><stop offset="0.314" stop-color="#786bff"/><stop offset="0.320" stop-color="#6254ff"/><stop offset="0.325" stop-color="#4635ff"/><stop offset="0.331" stop-color="#2a17ff"/><stop offset="0.337" stop-color="#200cfd"/><stop offset="0.343" stop-color="#1f0bfa"/><stop offset="0.349" stop-color="#1f0bf8"/><stop offset="0.355" stop-color="#1e0af5"/><stop offset="0.361" stop-color="#1d09f1"/><stop offset="0.367" stop-color="#1c08ea"/><stop offset="0.373" stop-color="#1908ce"/><stop offset="0.378" stop-color="#1809c4"/><stop offset="0.384" stop-color="#1809c0"/><stop offset="0.390" stop-color="#1709b8"/><stop offset="0.396" stop-color="#1609ae"/><stop offset="0.402" stop-color="#1509a3"/><stop offset="0.408" stop-color="#140998"/><stop offset="0.414" stop-color="#13098d"/><stop offset="0.420" stop-color="#120a85"/><stop offset="0.425" stop-color="#120a7e"/><stop offset="0.431" stop-color="#110a79"/><stop offset="0.437" stop-color="#110a79"/><stop offset="0.443" stop-color="#110a79"/><stop offset="0.449" stop-color="#110a78"/><stop offset="0.455" stop-color="#110a78"/><stop offset="0.461" stop-color="#110a78"/><stop offset="0.467" stop-color="#110a78"/><stop offset="0.472" stop-color="#110a78"/><stop offset="0.478" stop-color="#110a78"/><stop offset="0.508" stop-color="#110a77"/><stop offset="0.561" stop-color="#110a76"/><stop offset="0.649" stop-color="#110a75"/><stop offset="0.766" stop-color="#110a75"/><stop offset="0.884" stop-color="#110a74"/><stop offset="1.000" stop-color="#110a74"/></linearGradient><linearGradient id="h21" gradientUnits="userSpaceOnUse" x1="149.6" x2="319.8" y1="0" y2="0"><stop offset="0.000" stop-color="#110a75"/><stop offset="0.061" stop-color="#110a76"/><stop offset="0.120" stop-color="#110a77"/><stop offset="0.155" stop-color="#110a78"/><stop offset="0.161" stop-color="#110a78"/><stop offset="0.167" stop-color="#110a78"/><stop offset="0.173" stop-color="#110a79"/><stop offset="0.179" stop-color="#110a79"/><stop offset="0.184" stop-color="#110a79"/><stop offset="0.190" stop-color="#110a79"/><stop offset="0.196" stop-color="#110a7a"/><stop offset="0.202" stop-color="#120a80"/><stop offset="0.208" stop-color="#120a86"/><stop offset="0.214" stop-color="#13098f"/><stop offset="0.220" stop-color="#14099a"/><stop offset="0.226" stop-color="#1609a8"/><stop offset="0.231" stop-color="#1709b6"/><stop offset="0.237" stop-color="#1809c6"/><stop offset="0.243" stop-color="#1a08d5"/><stop offset="0.249" stop-color="#1b08e3"/><stop offset="0.255" stop-color="#1c08ec"/><stop offset="0.261" stop-color="#1d09f0"/><stop offset="0.267" stop-color="#1e0af3"/><stop offset="0.273" stop-color="#1e0af6"/><stop offset="0.278" stop-color="#1f0bfa"/><stop offset="0.284" stop-color="#200cfe"/><stop offset="0.290" stop-color="#3927ff"/><stop offset="0.296" stop-color="#5748ff"/><stop offset="0.302" stop-color="#6e61ff"/><stop offset="0.308" stop-color="#776bff"/><stop offset="0.314" stop-color="#7063ff"/><stop offset="0.320" stop-color="#5c4dff"/><stop offset="0.325" stop-color="#4130ff"/><stop offset="0.331" stop-color="#2713ff"/><stop offset="0.337" stop-color="#1f0bfc"/><stop offset="0.343" stop-color="#1f0bfa"/><stop offset="0.349" stop-color="#1f0bf8"/><stop offset="0.355" stop-color="#1e0af5"/><stop offset="0.361" stop-color="#1d09f1"/><stop offset="0.367" stop-color="#1c08eb"/><stop offset="0.373" stop-color="#1908cf"/><stop offset="0.378" stop-color="#1809c0"/><stop offset="0.384" stop-color="#1809bc"/><stop offset="0.390" stop-color="#1709b5"/><stop offset="0.396" stop-color="#1609ab"/><stop offset="0.402" stop-color="#1509a0"/><stop offset="0.408" stop-color="#140995"/><stop offset="0.414" stop-color="#130a8c"/><stop offset="0.420" stop-color="#120a83"/><stop offset="0.425" stop-color="#110a7d"/><stop offset="0.431" stop-color="#110a79"/><stop offset="0.437" stop-color="#110a79"/><stop offset="0.443" stop-color="#110a79"/><stop offset="0.449" stop-color="#110a78"/><stop offset="0.455" stop-color="#110a78"/><stop offset="0.461" stop-color="#110a78"/><stop offset="0.467" stop-color="#110a78"/><stop offset="0.472" stop-color="#110a78"/><stop offset="0.478" stop-color="#110a78"/><stop offset="0.508" stop-color="#110a77"/><stop offset="0.561" stop-color="#110a76"/><stop offset="0.649" stop-color="#110a75"/><stop offset="0.766" stop-color="#110a75"/><stop offset="0.884" stop-color="#110a74"/><stop offset="1.000" stop-color="#110a74"/></linearGradient><linearGradient id="h22" gradientUnits="userSpaceOnUse" x1="149.6" x2="319.8" y1="0" y2="0"><stop offset="0.000" stop-color="#110a75"/><stop offset="0.061" stop-color="#110a76"/><stop offset="0.120" stop-color="#110a77"/><stop offset="0.155" stop-color="#110a78"/><stop offset="0.161" stop-color="#110a78"/><stop offset="0.167" stop-color="#110a78"/><stop offset="0.173" stop-color="#110a79"/><stop offset="0.179" stop-color="#110a79"/><stop offset="0.184" stop-color="#110a79"/><stop offset="0.190" stop-color="#110a79"/><stop offset="0.196" stop-color="#110a7a"/><stop offset="0.202" stop-color="#120a7f"/><stop offset="0.208" stop-color="#120a85"/><stop offset="0.214" stop-color="#13098e"/><stop offset="0.220" stop-color="#140999"/><stop offset="0.226" stop-color="#1509a6"/><stop offset="0.231" stop-color="#1709b5"/><stop offset="0.237" stop-color="#1809c4"/><stop offset="0.243" stop-color="#1a08d4"/><stop offset="0.249" stop-color="#1b08e2"/><stop offset="0.255" stop-color="#1c08ec"/><stop offset="0.261" stop-color="#1d09f0"/><stop offset="0.267" stop-color="#1e0af3"/><stop offset="0.273" stop-color="#1e0af6"/><stop offset="0.278" stop-color="#1f0bf9"/><stop offset="0.284" stop-color="#200cfe"/><stop offset="0.290" stop-color="#3624ff"/><stop offset="0.296" stop-color="#5343ff"/><stop offset="0.302" stop-color="#695bff"/><stop offset="0.308" stop-color="#7265ff"/><stop offset="0.314" stop-color="#6b5eff"/><stop offset="0.320" stop-color="#5848ff"/><stop offset="0.325" stop-color="#3e2cff"/><stop offset="0.331" stop-color="#2411ff"/><stop offset="0.337" stop-color="#1f0bfc"/><stop offset="0.343" stop-color="#1f0bfa"/><stop offset="0.349" stop-color="#1f0bf8"/><stop offset="0.355" stop-color="#1e0af5"/><stop offset="0.361" stop-color="#1d09f2"/><stop offset="0.367" stop-color="#1c08ec"/><stop offset="0.373" stop-color="#1a08d1"/><stop offset="0.378" stop-color="#1809bd"/><stop offset="0.384" stop-color="#1709b9"/><stop offset="0.390" stop-color="#1609b1"/><stop offset="0.396" stop-color="#1609a8"/><stop offset="0.402" stop-color="#15099e"/><stop offset="0.408" stop-color="#140993"/><stop offset="0.414" stop-color="#130a8a"/><stop offset="0.420" stop-color="#120a82"/><stop offset="0.425" stop-color="#110a7c"/><stop offset="0.431" stop-color="#110a79"/><stop offset="0.437" stop-color="#110a79"/><stop offset="0.443" stop-color="#110a79"/><stop offset="0.449" stop-color="#110a78"/><stop offset="0.455" stop-color="#110a78"/><stop offset="0.461" stop-color="#110a78"/><stop offset="0.467" stop-color="#110a78"/><stop offset="0.472" stop-color="#110a78"/><stop offset="0.478" stop-color="#110a78"/><stop offset="0.508" stop-color="#110a77"/><stop offset="0.561" stop-color="#110a76"/><stop offset="0.649" stop-color="#110a75"/><stop offset="0.766" stop-color="#110a75"/><stop offset="0.884" stop-color="#110a74"/><stop offset="1.000" stop-color="#110a74"/></linearGradient><linearGradient id="h23" gradientUnits="userSpaceOnUse" x1="149.6" x2="319.8" y1="0" y2="0"><stop offset="0.000" stop-color="#110a75"/><stop offset="0.061" stop-color="#110a76"/><stop offset="0.120" stop-color="#110a77"/><stop offset="0.155" stop-color="#110a78"/><stop offset="0.161" stop-color="#110a78"/><stop offset="0.167" stop-color="#110a78"/><stop offset="0.173" stop-color="#110a79"/><stop offset="0.179" stop-color="#110a79"/><stop offset="0.184" stop-color="#110a79"/><stop offset="0.190" stop-color="#110a79"/><stop offset="0.196" stop-color="#110a7a"/><stop offset="0.202" stop-color="#110a7d"/><stop offset="0.208" stop-color="#120a83"/><stop offset="0.214" stop-color="#130a8c"/><stop offset="0.220" stop-color="#140996"/><stop offset="0.226" stop-color="#1509a3"/><stop offset="0.231" stop-color="#1609b2"/><stop offset="0.237" stop-color="#1809c2"/><stop offset="0.243" stop-color="#1a08d1"/><stop offset="0.249" stop-color="#1b08e0"/><stop offset="0.255" stop-color="#1c08ec"/><stop offset="0.261" stop-color="#1d09ef"/><stop offset="0.267" stop-color="#1d09f2"/><stop offset="0.273" stop-color="#1e0af6"/><stop offset="0.278" stop-color="#1f0bf9"/><stop offset="0.284" stop-color="#200cfd"/><stop offset="0.290" stop-color="#3220ff"/><stop offset="0.296" stop-color="#4e3eff"/><stop offset="0.302" stop-color="#6455ff"/><stop offset="0.308" stop-color="#6c5fff"/><stop offset="0.314" stop-color="#6658ff"/><stop offset="0.320" stop-color="#5343ff"/><stop offset="0.325" stop-color="#3a28ff"/><stop offset="0.331" stop-color="#220eff"/><stop offset="0.337" stop-color="#1f0bfc"/><stop offset="0.343" stop-color="#1f0bf9"/><stop offset="0.349" stop-color="#1e0af7"/><stop offset="0.355" stop-color="#1e0af5"/><stop offset="0.361" stop-color="#1d09f1"/><stop offset="0.367" stop-color="#1c08ea"/><stop offset="0.373" stop-color="#1908cd"/><stop offset="0.378" stop-color="#1709ba"/><stop offset="0.384" stop-color="#1709b6"/><stop offset="0.390" stop-color="#1609ae"/><stop offset="0.396" stop-color="#1509a5"/><stop offset="0.402" stop-color="#14099b"/><stop offset="0.408" stop-color="#130991"/><stop offset="0.414" stop-color="#130a88"/><stop offset="0.420" stop-color="#120a81"/><stop offset="0.425" stop-color="#110a7b"/><stop offset="0.431" stop-color="#110a79"/><stop offset="0.437" stop-color="#110a79"/><stop offset="0.443" stop-color="#110a79"/><stop offset="0.449" stop-color="#110a78"/><stop offset="0.455" stop-color="#110a78"/><stop offset="0.461" stop-color="#110a78"/><stop offset="0.467" stop-color="#110a78"/><stop offset="0.472" stop-color="#110a78"/><stop offset="0.478" stop-color="#110a78"/><stop offset="0.508" stop-color="#110a77"/><stop offset="0.561" stop-color="#110a76"/><stop offset="0.649" stop-color="#110a75"/><stop offset="0.766" stop-color="#110a75"/><stop offset="0.884" stop-color="#110a74"/><stop offset="1.000" stop-color="#110a74"/></linearGradient><linearGradient id="h24" gradientUnits="userSpaceOnUse" x1="149.6" x2="319.8" y1="0" y2="0"><stop offset="0.000" stop-color="#110a75"/><stop offset="0.061" stop-color="#110a76"/><stop offset="0.120" stop-color="#110a77"/><stop offset="0.155" stop-color="#110a78"/><stop offset="0.161" stop-color="#110a78"/><stop offset="0.167" stop-color="#110a78"/><stop offset="0.173" stop-color="#110a79"/><stop offset="0.179" stop-color="#110a79"/><stop offset="0.184" stop-color="#110a79"/><stop offset="0.190" stop-color="#110a79"/><stop offset="0.196" stop-color="#110a7a"/><stop offset="0.202" stop-color="#110a7c"/><stop offset="0.208" stop-color="#120a82"/><stop offset="0.214" stop-color="#130a89"/><stop offset="0.220" stop-color="#140994"/><stop offset="0.226" stop-color="#1509a0"/><stop offset="0.231" stop-color="#1609af"/><stop offset="0.237" stop-color="#1809bf"/><stop offset="0.243" stop-color="#1908cf"/><stop offset="0.249" stop-color="#1b08de"/><stop offset="0.255" stop-color="#1c08eb"/><stop offset="0.261" stop-color="#1d09ef"/><stop offset="0.267" stop-color="#1d09f2"/><stop offset="0.273" stop-color="#1e0af5"/><stop offset="0.278" stop-color="#1f0bf9"/><stop offset="0.284" stop-color="#200cfd"/><stop offset="0.290" stop-color="#2e1cff"/><stop offset="0.296" stop-color="#4a39ff"/><stop offset="0.302" stop-color="#5e50ff"/><stop offset="0.308" stop-color="#6759ff"/><stop offset="0.314" stop-color="#6152ff"/><stop offset="0.320" stop-color="#4f3fff"/><stop offset="0.325" stop-color="#3725ff"/><stop offset="0.331" stop-color="#200cff"/><stop offset="0.337" stop-color="#1f0bfc"/><stop offset="0.343" stop-color="#1f0bf9"/><stop offset="0.349" stop-color="#1e0af7"/><stop offset="0.355" stop-color="#1e0af5"/><stop offset="0.361" stop-color="#1d09f0"/><stop offset="0.367" stop-color="#1c08e6"/><stop offset="0.373" stop-color="#1909c9"/><stop offset="0.378" stop-color="#1709b7"/><stop offset="0.384" stop-color="#1709b2"/><stop offset="0.390" stop-color="#1609ab"/><stop offset="0.396" stop-color="#1509a2"/><stop offset="0.402" stop-color="#140999"/><stop offset="0.408" stop-color="#13098f"/><stop offset="0.414" stop-color="#120a87"/><stop offset="0.420" stop-color="#120a80"/><stop offset="0.425" stop-color="#110a7a"/><stop offset="0.431" stop-color="#110a79"/><stop offset="0.437" stop-color="#110a79"/><stop offset="0.443" stop-color="#110a79"/><stop offset="0.449" stop-color="#110a78"/><stop offset="0.455" stop-color="#110a78"/><stop offset="0.461" stop-color="#110a78"/><stop offset="0.467" stop-color="#110a78"/><stop offset="0.472" stop-color="#110a78"/><stop offset="0.478" stop-color="#110a78"/><stop offset="0.508" stop-color="#110a77"/><stop offset="0.561" stop-color="#110a76"/><stop offset="0.649" stop-color="#110a75"/><stop offset="0.766" stop-color="#110a75"/><stop offset="0.884" stop-color="#110a74"/><stop offset="1.000" stop-color="#110a74"/></linearGradient><linearGradient id="h25" gradientUnits="userSpaceOnUse" x1="149.6" x2="319.8" y1="0" y2="0"><stop offset="0.000" stop-color="#110a75"/><stop offset="0.061" stop-color="#110a76"/><stop offset="0.120" stop-color="#110a77"/><stop offset="0.155" stop-color="#110a78"/><stop offset="0.161" stop-color="#110a78"/><stop offset="0.167" stop-color="#110a78"/><stop offset="0.173" stop-color="#110a79"/><stop offset="0.179" stop-color="#110a79"/><stop offset="0.184" stop-color="#110a79"/><stop offset="0.190" stop-color="#110a79"/><stop offset="0.196" stop-color="#110a7a"/><stop offset="0.202" stop-color="#110a7b"/><stop offset="0.208" stop-color="#120a80"/><stop offset="0.214" stop-color="#120a87"/><stop offset="0.220" stop-color="#130991"/><stop offset="0.226" stop-color="#15099d"/><stop offset="0.231" stop-color="#1609ac"/><stop offset="0.237" stop-color="#1709bc"/><stop offset="0.243" stop-color="#1908cc"/><stop offset="0.249" stop-color="#1b08dc"/><stop offset="0.255" stop-color="#1c08ea"/><stop offset="0.261" stop-color="#1d09ee"/><stop offset="0.267" stop-color="#1d09f2"/><stop offset="0.273" stop-color="#1e0af5"/><stop offset="0.278" stop-color="#1f0bf8"/><stop offset="0.284" stop-color="#1f0bfc"/><stop offset="0.290" stop-color="#2b18ff"/><stop offset="0.296" stop-color="#4534ff"/><stop offset="0.302" stop-color="#594aff"/><stop offset="0.308" stop-color="#6153ff"/><stop offset="0.314" stop-color="#5c4dff"/><stop offset="0.320" stop-color="#4a3aff"/><stop offset="0.325" stop-color="#3321ff"/><stop offset="0.331" stop-color="#200cfe"/><stop offset="0.337" stop-color="#1f0bfb"/><stop offset="0.343" stop-color="#1f0bf9"/><stop offset="0.349" stop-color="#1e0af7"/><stop offset="0.355" stop-color="#1e0af4"/><stop offset="0.361" stop-color="#1d09f0"/><stop offset="0.367" stop-color="#1b08e3"/><stop offset="0.373" stop-color="#1809c5"/><stop offset="0.378" stop-color="#1709b4"/><stop offset="0.384" stop-color="#1609af"/><stop offset="0.390" stop-color="#1609a8"/><stop offset="0.396" stop-color="#15099f"/><stop offset="0.402" stop-color="#140996"/><stop offset="0.408" stop-color="#130a8d"/><stop offset="0.414" stop-color="#120a85"/><stop offset="0.420" stop-color="#120a7f"/><stop offset="0.425" stop-color="#110a79"/><stop offset="0.431" stop-color="#110a79"/><stop offset="0.437" stop-color="#110a79"/><stop offset="0.443" stop-color="#110a79"/><stop offset="0.449" stop-color="#110a78"/><stop offset="0.455" stop-color="#110a78"/><stop offset="0.461" stop-color="#110a78"/><stop offset="0.467" stop-color="#110a78"/><stop offset="0.472" stop-color="#110a78"/><stop offset="0.478" stop-color="#110a78"/><stop offset="0.508" stop-color="#110a77"/><stop offset="0.561" stop-color="#110a76"/><stop offset="0.649" stop-color="#110a75"/><stop offset="0.766" stop-color="#110a75"/><stop offset="0.884" stop-color="#110a74"/><stop offset="1.000" stop-color="#110a74"/></linearGradient><linearGradient id="h26" gradientUnits="userSpaceOnUse" x1="149.6" x2="319.8" y1="0" y2="0"><stop offset="0.000" stop-color="#110a75"/><stop offset="0.061" stop-color="#110a76"/><stop offset="0.120" stop-color="#110a77"/><stop offset="0.155" stop-color="#110a78"/><stop offset="0.161" stop-color="#110a78"/><stop offset="0.167" stop-color="#110a78"/><stop offset="0.173" stop-color="#110a79"/><stop offset="0.179" stop-color="#110a79"/><stop offset="0.184" stop-color="#110a79"/><stop offset="0.190" stop-color="#110a79"/><stop offset="0.196" stop-color="#110a7a"/><stop offset="0.202" stop-color="#110a7a"/><stop offset="0.208" stop-color="#120a7e"/><stop offset="0.214" stop-color="#120a85"/><stop offset="0.220" stop-color="#13098f"/><stop offset="0.226" stop-color="#14099a"/><stop offset="0.231" stop-color="#1609a9"/><stop offset="0.237" stop-color="#1709b9"/><stop offset="0.243" stop-color="#1909c9"/><stop offset="0.249" stop-color="#1a08d9"/><stop offset="0.255" stop-color="#1c08e8"/><stop offset="0.261" stop-color="#1d09ee"/><stop offset="0.267" stop-color="#1d09f1"/><stop offset="0.273" stop-color="#1e0af5"/><stop offset="0.278" stop-color="#1f0bf8"/><stop offset="0.284" stop-color="#1f0bfc"/><stop offset="0.290" stop-color="#2714ff"/><stop offset="0.296" stop-color="#402fff"/><stop offset="0.302" stop-color="#5444ff"/><stop offset="0.308" stop-color="#5c4dff"/><stop offset="0.314" stop-color="#5647ff"/><stop offset="0.320" stop-color="#4635ff"/><stop offset="0.325" stop-color="#301dff"/><stop offset="0.331" stop-color="#200cfe"/><stop offset="0.337" stop-color="#1f0bfb"/><stop offset="0.343" stop-color="#1f0bf9"/><stop offset="0.349" stop-color="#1e0af7"/><stop offset="0.355" stop-color="#1e0af4"/><stop offset="0.361" stop-color="#1d09ef"/><stop offset="0.367" stop-color="#1b08df"/><stop offset="0.373" stop-color="#1809c1"/><stop offset="0.378" stop-color="#1609b1"/><stop offset="0.384" stop-color="#1609ac"/><stop offset="0.390" stop-color="#1509a5"/><stop offset="0.396" stop-color="#14099d"/><stop offset="0.402" stop-color="#140994"/><stop offset="0.408" stop-color="#130a8b"/><stop offset="0.414" stop-color="#120a84"/><stop offset="0.420" stop-color="#110a7d"/><stop offset="0.425" stop-color="#110a79"/><stop offset="0.431" stop-color="#110a79"/><stop offset="0.437" stop-color="#110a79"/><stop offset="0.443" stop-color="#110a79"/><stop offset="0.449" stop-color="#110a78"/><stop offset="0.455" stop-color="#110a78"/><stop offset="0.461" stop-color="#110a78"/><stop offset="0.467" stop-color="#110a78"/><stop offset="0.472" stop-color="#110a78"/><stop offset="0.478" stop-color="#110a78"/><stop offset="0.508" stop-color="#110a77"/><stop offset="0.561" stop-color="#110a76"/><stop offset="0.649" stop-color="#110a75"/><stop offset="0.766" stop-color="#110a75"/><stop offset="0.884" stop-color="#110a74"/><stop offset="1.000" stop-color="#110a74"/></linearGradient><linearGradient id="h27" gradientUnits="userSpaceOnUse" x1="149.6" x2="319.8" y1="0" y2="0"><stop offset="0.000" stop-color="#110a75"/><stop offset="0.061" stop-color="#110a76"/><stop offset="0.120" stop-color="#110a77"/><stop offset="0.155" stop-color="#110a78"/><stop offset="0.161" stop-color="#110a78"/><stop offset="0.167" stop-color="#110a78"/><stop offset="0.173" stop-color="#110a79"/><stop offset="0.179" stop-color="#110a79"/><stop offset="0.184" stop-color="#110a79"/><stop offset="0.190" stop-color="#110a79"/><stop offset="0.196" stop-color="#110a7a"/><stop offset="0.202" stop-color="#110a7a"/><stop offset="0.208" stop-color="#110a7d"/><stop offset="0.214" stop-color="#120a83"/><stop offset="0.220" stop-color="#130a8c"/><stop offset="0.226" stop-color="#140998"/><stop offset="0.231" stop-color="#1509a6"/><stop offset="0.237" stop-color="#1709b5"/><stop offset="0.243" stop-color="#1809c6"/><stop offset="0.249" stop-color="#1a08d7"/><stop offset="0.255" stop-color="#1c08e6"/><stop offset="0.261" stop-color="#1c08ed"/><stop offset="0.267" stop-color="#1d09f1"/><stop offset="0.273" stop-color="#1e0af4"/><stop offset="0.278" stop-color="#1f0bf8"/><stop offset="0.284" stop-color="#1f0bfb"/><stop offset="0.290" stop-color="#2410ff"/><stop offset="0.296" stop-color="#3c2aff"/><stop offset="0.302" stop-color="#4f3eff"/><stop offset="0.308" stop-color="#5647ff"/><stop offset="0.314" stop-color="#5141ff"/><stop offset="0.320" stop-color="#4130ff"/><stop offset="0.325" stop-color="#2c19ff"/><stop offset="0.331" stop-color="#200cfe"/><stop offset="0.337" stop-color="#1f0bfb"/><stop offset="0.343" stop-color="#1f0bf9"/><stop offset="0.349" stop-color="#1e0af6"/><stop offset="0.355" stop-color="#1e0af3"/><stop offset="0.361" stop-color="#1d09ee"/><stop offset="0.367" stop-color="#1b08dc"/><stop offset="0.373" stop-color="#1809bc"/><stop offset="0.378" stop-color="#1609ae"/><stop offset="0.384" stop-color="#1609a9"/><stop offset="0.390" stop-color="#1509a2"/><stop offset="0.396" stop-color="#14099a"/><stop offset="0.402" stop-color="#130992"/><stop offset="0.408" stop-color="#130a8a"/><stop offset="0.414" stop-color="#120a82"/><stop offset="0.420" stop-color="#110a7c"/><stop offset="0.425" stop-color="#110a79"/><stop offset="0.431" stop-color="#110a79"/><stop offset="0.437" stop-color="#110a79"/><stop offset="0.443" stop-color="#110a79"/><stop offset="0.449" stop-color="#110a78"/><stop offset="0.455" stop-color="#110a78"/><stop offset="0.461" stop-color="#110a78"/><stop offset="0.467" stop-color="#110a78"/><stop offset="0.472" stop-color="#110a78"/><stop offset="0.478" stop-color="#110a78"/><stop offset="0.508" stop-color="#110a77"/><stop offset="0.561" stop-color="#110a76"/><stop offset="0.649" stop-color="#110a75"/><stop offset="0.766" stop-color="#110a75"/><stop offset="0.884" stop-color="#110a74"/><stop offset="1.000" stop-color="#110a74"/></linearGradient><linearGradient id="h28" gradientUnits="userSpaceOnUse" x1="149.6" x2="319.8" y1="0" y2="0"><stop offset="0.000" stop-color="#110a75"/><stop offset="0.061" stop-color="#110a76"/><stop offset="0.120" stop-color="#110a77"/><stop offset="0.155" stop-color="#110a78"/><stop offset="0.161" stop-color="#110a78"/><stop offset="0.167" stop-color="#110a78"/><stop offset="0.173" stop-color="#110a79"/><stop offset="0.179" stop-color="#110a79"/><stop offset="0.184" stop-color="#110a79"/><stop offset="0.190" stop-color="#110a79"/><stop offset="0.196" stop-color="#110a7a"/><stop offset="0.202" stop-color="#110a7a"/><stop offset="0.208" stop-color="#110a7c"/><stop offset="0.214" stop-color="#120a82"/><stop offset="0.220" stop-color="#130a8a"/><stop offset="0.226" stop-color="#140995"/><stop offset="0.231" stop-color="#1509a2"/><stop offset="0.237" stop-color="#1709b2"/><stop offset="0.243" stop-color="#1809c3"/><stop offset="0.249" stop-color="#1a08d4"/><stop offset="0.255" stop-color="#1b08e4"/><stop offset="0.261" stop-color="#1c08ed"/><stop offset="0.267" stop-color="#1d09f1"/><stop offset="0.273" stop-color="#1e0af4"/><stop offset="0.278" stop-color="#1e0af7"/><stop offset="0.284" stop-color="#1f0bfb"/><stop offset="0.290" stop-color="#200cff"/><stop offset="0.296" stop-color="#3725ff"/><stop offset="0.302" stop-color="#4939ff"/><stop offset="0.308" stop-color="#5141ff"/><stop offset="0.314" stop-color="#4c3cff"/><stop offset="0.320" stop-color="#3d2bff"/><stop offset="0.325" stop-color="#2916ff"/><stop offset="0.331" stop-color="#200cfd"/><stop offset="0.337" stop-color="#1f0bfb"/><stop offset="0.343" stop-color="#1f0bf8"/><stop offset="0.349" stop-color="#1e0af6"/><stop offset="0.355" stop-color="#1e0af3"/><stop offset="0.361" stop-color="#1c08ed"/><stop offset="0.367" stop-color="#1a08d8"/><stop offset="0.373" stop-color="#1709b8"/><stop offset="0.378" stop-color="#1609ab"/><stop offset="0.384" stop-color="#1509a6"/><stop offset="0.390" stop-color="#1509a0"/><stop offset="0.396" stop-color="#140998"/><stop offset="0.402" stop-color="#130990"/><stop offset="0.408" stop-color="#120a88"/><stop offset="0.414" stop-color="#120a81"/><stop offset="0.420" stop-color="#110a7b"/><stop offset="0.425" stop-color="#110a79"/><stop offset="0.431" stop-color="#110a79"/><stop offset="0.437" stop-color="#110a79"/><stop offset="0.443" stop-color="#110a79"/><stop offset="0.449" stop-color="#110a78"/><stop offset="0.455" stop-color="#110a78"/><stop offset="0.461" stop-color="#110a78"/><stop offset="0.467" stop-color="#110a78"/><stop offset="0.472" stop-color="#110a78"/><stop offset="0.478" stop-color="#110a78"/><stop offset="0.508" stop-color="#110a77"/><stop offset="0.561" stop-color="#110a76"/><stop offset="0.649" stop-color="#110a75"/><stop offset="0.766" stop-color="#110a75"/><stop offset="0.884" stop-color="#110a74"/><stop offset="1.000" stop-color="#110a74"/></linearGradient><linearGradient id="h29" gradientUnits="userSpaceOnUse" x1="149.6" x2="319.8" y1="0" y2="0"><stop offset="0.000" stop-color="#110a75"/><stop offset="0.061" stop-color="#110a76"/><stop offset="0.120" stop-color="#110a77"/><stop offset="0.155" stop-color="#110a78"/><stop offset="0.161" stop-color="#110a78"/><stop offset="0.167" stop-color="#110a78"/><stop offset="0.173" stop-color="#110a79"/><stop offset="0.179" stop-color="#110a79"/><stop offset="0.184" stop-color="#110a79"/><stop offset="0.190" stop-color="#110a79"/><stop offset="0.196" stop-color="#110a7a"/><stop offset="0.202" stop-color="#110a7a"/><stop offset="0.208" stop-color="#110a7a"/><stop offset="0.214" stop-color="#120a80"/><stop offset="0.220" stop-color="#120a88"/><stop offset="0.226" stop-color="#130992"/><stop offset="0.231" stop-color="#15099f"/><stop offset="0.237" stop-color="#1609af"/><stop offset="0.243" stop-color="#1809c0"/><stop offset="0.249" stop-color="#1a08d1"/><stop offset="0.255" stop-color="#1b08e1"/><stop offset="0.261" stop-color="#1c08ec"/><stop offset="0.267" stop-color="#1d09f0"/><stop offset="0.273" stop-color="#1e0af4"/><stop offset="0.278" stop-color="#1e0af7"/><stop offset="0.284" stop-color="#1f0bfa"/><stop offset="0.290" stop-color="#200cfe"/><stop offset="0.296" stop-color="#3320ff"/><stop offset="0.302" stop-color="#4433ff"/><stop offset="0.308" stop-color="#4b3bff"/><stop offset="0.314" stop-color="#4736ff"/><stop offset="0.320" stop-color="#3826ff"/><stop offset="0.325" stop-color="#2612ff"/><stop offset="0.331" stop-color="#200cfd"/><stop offset="0.337" stop-color="#1f0bfa"/><stop offset="0.343" stop-color="#1f0bf8"/><stop offset="0.349" stop-color="#1e0af6"/><stop offset="0.355" stop-color="#1d09f2"/><stop offset="0.361" stop-color="#1c08ec"/><stop offset="0.367" stop-color="#1a08d4"/><stop offset="0.373" stop-color="#1709b4"/><stop offset="0.378" stop-color="#1609a8"/><stop offset="0.384" stop-color="#1509a3"/><stop offset="0.390" stop-color="#15099d"/><stop offset="0.396" stop-color="#140995"/><stop offset="0.402" stop-color="#13098e"/><stop offset="0.408" stop-color="#120a86"/><stop offset="0.414" stop-color="#120a80"/><stop offset="0.420" stop-color="#110a7b"/><stop offset="0.425" stop-color="#110a79"/><stop offset="0.431" stop-color="#110a79"/><stop offset="0.437" stop-color="#110a79"/><stop offset="0.443" stop-color="#110a79"/><stop offset="0.449" stop-color="#110a78"/><stop offset="0.455" stop-color="#110a78"/><stop offset="0.461" stop-color="#110a78"/><stop offset="0.467" stop-color="#110a78"/><stop offset="0.472" stop-color="#110a78"/><stop offset="0.478" stop-color="#110a78"/><stop offset="0.508" stop-color="#110a77"/><stop offset="0.561" stop-color="#110a76"/><stop offset="0.649" stop-color="#110a75"/><stop offset="0.766" stop-color="#110a75"/><stop offset="0.884" stop-color="#110a74"/><stop offset="1.000" stop-color="#110a74"/></linearGradient><linearGradient id="h30" gradientUnits="userSpaceOnUse" x1="149.6" x2="319.8" y1="0" y2="0"><stop offset="0.000" stop-color="#110a75"/><stop offset="0.061" stop-color="#110a76"/><stop offset="0.120" stop-color="#110a77"/><stop offset="0.155" stop-color="#110a78"/><stop offset="0.161" stop-color="#110a78"/><stop offset="0.167" stop-color="#110a78"/><stop offset="0.173" stop-color="#110a79"/><stop offset="0.179" stop-color="#110a79"/><stop offset="0.184" stop-color="#110a79"/><stop offset="0.190" stop-color="#110a79"/><stop offset="0.196" stop-color="#110a7a"/><stop offset="0.202" stop-color="#110a7a"/><stop offset="0.208" stop-color="#110a7a"/><stop offset="0.214" stop-color="#120a7e"/><stop offset="0.220" stop-color="#120a86"/><stop offset="0.226" stop-color="#130990"/><stop offset="0.231" stop-color="#14099c"/><stop offset="0.237" stop-color="#1609ac"/><stop offset="0.243" stop-color="#1809bd"/><stop offset="0.249" stop-color="#1908cf"/><stop offset="0.255" stop-color="#1b08df"/><stop offset="0.261" stop-color="#1c08ec"/><stop offset="0.267" stop-color="#1d09f0"/><stop offset="0.273" stop-color="#1e0af3"/><stop offset="0.278" stop-color="#1e0af7"/><stop offset="0.284" stop-color="#1f0bfa"/><stop offset="0.290" stop-color="#200cfe"/><stop offset="0.296" stop-color="#2e1cff"/><stop offset="0.302" stop-color="#3f2dff"/><stop offset="0.308" stop-color="#4635ff"/><stop offset="0.314" stop-color="#4130ff"/><stop offset="0.320" stop-color="#3422ff"/><stop offset="0.325" stop-color="#220eff"/><stop offset="0.331" stop-color="#1f0bfc"/><stop offset="0.337" stop-color="#1f0bfa"/><stop offset="0.343" stop-color="#1f0bf8"/><stop offset="0.349" stop-color="#1e0af5"/><stop offset="0.355" stop-color="#1d09f1"/><stop offset="0.361" stop-color="#1c08eb"/><stop offset="0.367" stop-color="#1908d0"/><stop offset="0.373" stop-color="#1609b0"/><stop offset="0.378" stop-color="#1509a5"/><stop offset="0.384" stop-color="#1509a1"/><stop offset="0.390" stop-color="#14099a"/><stop offset="0.396" stop-color="#140993"/><stop offset="0.402" stop-color="#130a8c"/><stop offset="0.408" stop-color="#120a85"/><stop offset="0.414" stop-color="#120a7f"/><stop offset="0.420" stop-color="#110a7a"/><stop offset="0.425" stop-color="#110a79"/><stop offset="0.431" stop-color="#110a79"/><stop offset="0.437" stop-color="#110a79"/><stop offset="0.443" stop-color="#110a79"/><stop offset="0.449" stop-color="#110a78"/><stop offset="0.455" stop-color="#110a78"/><stop offset="0.461" stop-color="#110a78"/><stop offset="0.467" stop-color="#110a78"/><stop offset="0.472" stop-color="#110a78"/><stop offset="0.478" stop-color="#110a78"/><stop offset="0.508" stop-color="#110a77"/><stop offset="0.561" stop-color="#110a76"/><stop offset="0.649" stop-color="#110a75"/><stop offset="0.766" stop-color="#110a75"/><stop offset="0.884" stop-color="#110a74"/><stop offset="1.000" stop-color="#110a74"/></linearGradient><linearGradient id="h31" gradientUnits="userSpaceOnUse" x1="149.6" x2="319.8" y1="0" y2="0"><stop offset="0.000" stop-color="#110a75"/><stop offset="0.061" stop-color="#110a76"/><stop offset="0.120" stop-color="#110a77"/><stop offset="0.155" stop-color="#110a78"/><stop offset="0.161" stop-color="#110a78"/><stop offset="0.167" stop-color="#110a78"/><stop offset="0.173" stop-color="#110a79"/><stop offset="0.179" stop-color="#110a79"/><stop offset="0.184" stop-color="#110a79"/><stop offset="0.190" stop-color="#110a79"/><stop offset="0.196" stop-color="#110a7a"/><stop offset="0.202" stop-color="#110a7a"/><stop offset="0.208" stop-color="#110a7a"/><stop offset="0.214" stop-color="#110a7d"/><stop offset="0.220" stop-color="#120a84"/><stop offset="0.226" stop-color="#130a8d"/><stop offset="0.231" stop-color="#140999"/><stop offset="0.237" stop-color="#1609a9"/><stop offset="0.243" stop-color="#1709ba"/><stop offset="0.249" stop-color="#1909cc"/><stop offset="0.255" stop-color="#1b08dd"/><stop offset="0.261" stop-color="#1c08eb"/><stop offset="0.267" stop-color="#1d09ef"/><stop offset="0.273" stop-color="#1e0af3"/><stop offset="0.278" stop-color="#1e0af6"/><stop offset="0.284" stop-color="#1f0bfa"/><stop offset="0.290" stop-color="#200cfd"/><stop offset="0.296" stop-color="#2a17ff"/><stop offset="0.302" stop-color="#3a28ff"/><stop offset="0.308" stop-color="#412fff"/><stop offset="0.314" stop-color="#3d2bff"/><stop offset="0.320" stop-color="#301dff"/><stop offset="0.325" stop-color="#200cff"/><stop offset="0.331" stop-color="#1f0bfc"/><stop offset="0.337" stop-color="#1f0bfa"/><stop offset="0.343" stop-color="#1f0bf8"/><stop offset="0.349" stop-color="#1e0af5"/><stop offset="0.355" stop-color="#1d09f1"/><stop offset="0.361" stop-color="#1c08e9"/><stop offset="0.367" stop-color="#1909cc"/><stop offset="0.373" stop-color="#1609ac"/><stop offset="0.378" stop-color="#1509a2"/><stop offset="0.384" stop-color="#15099e"/><stop offset="0.390" stop-color="#140998"/><stop offset="0.396" stop-color="#130991"/><stop offset="0.402" stop-color="#130a8a"/><stop offset="0.408" stop-color="#120a83"/><stop offset="0.414" stop-color="#110a7d"/><stop offset="0.420" stop-color="#110a7a"/><stop offset="0.425" stop-color="#110a79"/><stop offset="0.431" stop-color="#110a79"/><stop offset="0.437" stop-color="#110a79"/><stop offset="0.443" stop-color="#110a79"/><stop offset="0.449" stop-color="#110a78"/><stop offset="0.455" stop-color="#110a78"/><stop offset="0.461" stop-color="#110a78"/><stop offset="0.467" stop-color="#110a78"/><stop offset="0.472" stop-color="#110a78"/><stop offset="0.478" stop-color="#110a78"/><stop offset="0.508" stop-color="#110a77"/><stop offset="0.561" stop-color="#110a76"/><stop offset="0.649" stop-color="#110a75"/><stop offset="0.766" stop-color="#110a75"/><stop offset="0.884" stop-color="#110a74"/><stop offset="1.000" stop-color="#110a74"/></linearGradient><linearGradient id="h32" gradientUnits="userSpaceOnUse" x1="149.6" x2="319.8" y1="0" y2="0"><stop offset="0.000" stop-color="#110a75"/><stop offset="0.061" stop-color="#110a76"/><stop offset="0.120" stop-color="#110a77"/><stop offset="0.155" stop-color="#110a78"/><stop offset="0.161" stop-color="#110a78"/><stop offset="0.167" stop-color="#110a78"/><stop offset="0.173" stop-color="#110a79"/><stop offset="0.179" stop-color="#110a79"/><stop offset="0.184" stop-color="#110a79"/><stop offset="0.190" stop-color="#110a79"/><stop offset="0.196" stop-color="#110a7a"/><stop offset="0.202" stop-color="#110a7a"/><stop offset="0.208" stop-color="#110a7a"/><stop offset="0.214" stop-color="#110a7b"/><stop offset="0.220" stop-color="#120a82"/><stop offset="0.226" stop-color="#130a8b"/><stop offset="0.231" stop-color="#140996"/><stop offset="0.237" stop-color="#1509a5"/><stop offset="0.243" stop-color="#1709b6"/><stop offset="0.249" stop-color="#1909c9"/><stop offset="0.255" stop-color="#1a08da"/><stop offset="0.261" stop-color="#1c08ea"/><stop offset="0.267" stop-color="#1d09ef"/><stop offset="0.273" stop-color="#1d09f2"/><stop offset="0.278" stop-color="#1e0af6"/><stop offset="0.284" stop-color="#1f0bf9"/><stop offset="0.290" stop-color="#200cfd"/><stop offset="0.296" stop-color="#2613ff"/><stop offset="0.302" stop-color="#3523ff"/><stop offset="0.308" stop-color="#3c2aff"/><stop offset="0.314" stop-color="#3826ff"/><stop offset="0.320" stop-color="#2c19ff"/><stop offset="0.325" stop-color="#200cfe"/><stop offset="0.331" stop-color="#1f0bfc"/><stop offset="0.337" stop-color="#1f0bf9"/><stop offset="0.343" stop-color="#1e0af7"/><stop offset="0.349" stop-color="#1e0af4"/><stop offset="0.355" stop-color="#1d09f0"/><stop offset="0.361" stop-color="#1b08e5"/><stop offset="0.367" stop-color="#1909c8"/><stop offset="0.373" stop-color="#1609a8"/><stop offset="0.378" stop-color="#1509a0"/><stop offset="0.384" stop-color="#14099b"/><stop offset="0.390" stop-color="#140995"/><stop offset="0.396" stop-color="#13098f"/><stop offset="0.402" stop-color="#120a88"/><stop offset="0.408" stop-color="#120a82"/><stop offset="0.414" stop-color="#110a7c"/><stop offset="0.420" stop-color="#110a7a"/><stop offset="0.425" stop-color="#110a79"/><stop offset="0.431" stop-color="#110a79"/><stop offset="0.437" stop-color="#110a79"/><stop offset="0.443" stop-color="#110a79"/><stop offset="0.449" stop-color="#110a78"/><stop offset="0.455" stop-color="#110a78"/><stop offset="0.461" stop-color="#110a78"/><stop offset="0.467" stop-color="#110a78"/><stop offset="0.472" stop-color="#110a78"/><stop offset="0.478" stop-color="#110a78"/><stop offset="0.508" stop-color="#110a77"/><stop offset="0.561" stop-color="#110a76"/><stop offset="0.649" stop-color="#110a75"/><stop offset="0.766" stop-color="#110a75"/><stop offset="0.884" stop-color="#110a74"/><stop offset="1.000" stop-color="#110a74"/></linearGradient><linearGradient id="h33" gradientUnits="userSpaceOnUse" x1="149.6" x2="319.8" y1="0" y2="0"><stop offset="0.000" stop-color="#110a75"/><stop offset="0.061" stop-color="#110a76"/><stop offset="0.120" stop-color="#110a77"/><stop offset="0.155" stop-color="#110a78"/><stop offset="0.161" stop-color="#110a78"/><stop offset="0.167" stop-color="#110a78"/><stop offset="0.173" stop-color="#110a79"/><stop offset="0.179" stop-color="#110a79"/><stop offset="0.184" stop-color="#110a79"/><stop offset="0.190" stop-color="#110a79"/><stop offset="0.196" stop-color="#110a7a"/><stop offset="0.202" stop-color="#110a7a"/><stop offset="0.208" stop-color="#110a7a"/><stop offset="0.214" stop-color="#110a7a"/><stop offset="0.220" stop-color="#120a80"/><stop offset="0.226" stop-color="#120a88"/><stop offset="0.231" stop-color="#140993"/><stop offset="0.237" stop-color="#1509a2"/><stop offset="0.243" stop-color="#1709b3"/><stop offset="0.249" stop-color="#1809c5"/><stop offset="0.255" stop-color="#1a08d7"/><stop offset="0.261" stop-color="#1c08e7"/><stop offset="0.267" stop-color="#1d09ee"/><stop offset="0.273" stop-color="#1d09f2"/><stop offset="0.278" stop-color="#1e0af5"/><stop offset="0.284" stop-color="#1f0bf9"/><stop offset="0.290" stop-color="#1f0bfc"/><stop offset="0.296" stop-color="#220fff"/><stop offset="0.302" stop-color="#311eff"/><stop offset="0.308" stop-color="#3725ff"/><stop offset="0.314" stop-color="#3421ff"/><stop offset="0.320" stop-color="#2815ff"/><stop offset="0.325" stop-color="#200cfe"/><stop offset="0.331" stop-color="#1f0bfb"/><stop offset="0.337" stop-color="#1f0bf9"/><stop offset="0.343" stop-color="#1e0af7"/><stop offset="0.349" stop-color="#1e0af4"/><stop offset="0.355" stop-color="#1d09ef"/><stop offset="0.361" stop-color="#1b08e0"/><stop offset="0.367" stop-color="#1809c1"/><stop offset="0.373" stop-color="#1509a3"/><stop offset="0.378" stop-color="#14099d"/><stop offset="0.384" stop-color="#140999"/><stop offset="0.390" stop-color="#140993"/><stop offset="0.396" stop-color="#130a8d"/><stop offset="0.402" stop-color="#120a86"/><stop offset="0.408" stop-color="#120a80"/><stop offset="0.414" stop-color="#110a7b"/><stop offset="0.420" stop-color="#110a7a"/><stop offset="0.425" stop-color="#110a79"/><stop offset="0.431" stop-color="#110a79"/><stop offset="0.437" stop-color="#110a79"/><stop offset="0.443" stop-color="#110a79"/><stop offset="0.449" stop-color="#110a78"/><stop offset="0.455" stop-color="#110a78"/><stop offset="0.461" stop-color="#110a78"/><stop offset="0.467" stop-color="#110a78"/><stop offset="0.472" stop-color="#110a78"/><stop offset="0.478" stop-color="#110a78"/><stop offset="0.508" stop-color="#110a77"/><stop offset="0.561" stop-color="#110a76"/><stop offset="0.649" stop-color="#110a75"/><stop offset="0.766" stop-color="#110a75"/><stop offset="0.884" stop-color="#110a74"/><stop offset="1.000" stop-color="#110a74"/></linearGradient><linearGradient id="h34" gradientUnits="userSpaceOnUse" x1="149.6" x2="319.8" y1="0" y2="0"><stop offset="0.000" stop-color="#110a75"/><stop offset="0.061" stop-color="#110a76"/><stop offset="0.120" stop-color="#110a77"/><stop offset="0.155" stop-color="#110a78"/><stop offset="0.161" stop-color="#110a78"/><stop offset="0.167" stop-color="#110a78"/><stop offset="0.173" stop-color="#110a79"/><stop offset="0.179" stop-color="#110a79"/><stop offset="0.184" stop-color="#110a79"/><stop offset="0.190" stop-color="#110a79"/><stop offset="0.196" stop-color="#110a7a"/><stop offset="0.202" stop-color="#110a7a"/><stop offset="0.208" stop-color="#110a7a"/><stop offset="0.214" stop-color="#110a7a"/><stop offset="0.220" stop-color="#120a7e"/><stop offset="0.226" stop-color="#120a86"/><stop offset="0.231" stop-color="#130990"/><stop offset="0.237" stop-color="#15099e"/><stop offset="0.243" stop-color="#1609af"/><stop offset="0.249" stop-color="#1809c1"/><stop offset="0.255" stop-color="#1a08d4"/><stop offset="0.261" stop-color="#1b08e5"/><stop offset="0.267" stop-color="#1d09ee"/><stop offset="0.273" stop-color="#1d09f2"/><stop offset="0.278" stop-color="#1e0af5"/><stop offset="0.284" stop-color="#1f0bf8"/><stop offset="0.290" stop-color="#1f0bfc"/><stop offset="0.296" stop-color="#200cff"/><stop offset="0.302" stop-color="#2c19ff"/><stop offset="0.308" stop-color="#3220ff"/><stop offset="0.314" stop-color="#2f1cff"/><stop offset="0.320" stop-color="#2511ff"/><stop offset="0.325" stop-color="#200cfd"/><stop offset="0.331" stop-color="#1f0bfb"/><stop offset="0.337" stop-color="#1f0bf9"/><stop offset="0.343" stop-color="#1e0af6"/><stop offset="0.349" stop-color="#1e0af3"/><stop offset="0.355" stop-color="#1d09ee"/><stop offset="0.361" stop-color="#1a08da"/><stop offset="0.367" stop-color="#1709bb"/><stop offset="0.373" stop-color="#15099d"/><stop offset="0.378" stop-color="#14099a"/><stop offset="0.384" stop-color="#140996"/><stop offset="0.390" stop-color="#130991"/><stop offset="0.396" stop-color="#130a8b"/><stop offset="0.402" stop-color="#120a85"/><stop offset="0.408" stop-color="#120a7f"/><stop offset="0.414" stop-color="#110a7a"/><stop offset="0.420" stop-color="#110a7a"/><stop offset="0.425" stop-color="#110a79"/><stop offset="0.431" stop-color="#110a79"/><stop offset="0.437" stop-color="#110a79"/><stop offset="0.443" stop-color="#110a79"/><stop offset="0.449" stop-color="#110a78"/><stop offset="0.455" stop-color="#110a78"/><stop offset="0.461" stop-color="#110a78"/><stop offset="0.467" stop-color="#110a78"/><stop offset="0.472" stop-color="#110a78"/><stop offset="0.478" stop-color="#110a78"/><stop offset="0.508" stop-color="#110a77"/><stop offset="0.561" stop-color="#110a76"/><stop offset="0.649" stop-color="#110a75"/><stop offset="0.766" stop-color="#110a75"/><stop offset="0.884" stop-color="#110a74"/><stop offset="1.000" stop-color="#110a74"/></linearGradient><linearGradient id="h35" gradientUnits="userSpaceOnUse" x1="149.6" x2="319.8" y1="0" y2="0"><stop offset="0.000" stop-color="#110a75"/><stop offset="0.061" stop-color="#110a76"/><stop offset="0.120" stop-color="#110a77"/><stop offset="0.155" stop-color="#110a78"/><stop offset="0.161" stop-color="#110a78"/><stop offset="0.167" stop-color="#110a78"/><stop offset="0.173" stop-color="#110a79"/><stop offset="0.179" stop-color="#110a79"/><stop offset="0.184" stop-color="#110a79"/><stop offset="0.190" stop-color="#110a79"/><stop offset="0.196" stop-color="#110a7a"/><stop offset="0.202" stop-color="#110a7a"/><stop offset="0.208" stop-color="#110a7a"/><stop offset="0.214" stop-color="#110a7a"/><stop offset="0.220" stop-color="#110a7c"/><stop offset="0.226" stop-color="#120a83"/><stop offset="0.231" stop-color="#13098d"/><stop offset="0.237" stop-color="#14099b"/><stop offset="0.243" stop-color="#1609ab"/><stop offset="0.249" stop-color="#1809bd"/><stop offset="0.255" stop-color="#1908d0"/><stop offset="0.261" stop-color="#1b08e2"/><stop offset="0.267" stop-color="#1c08ed"/><stop offset="0.273" stop-color="#1d09f1"/><stop offset="0.278" stop-color="#1e0af5"/><stop offset="0.284" stop-color="#1f0bf8"/><stop offset="0.290" stop-color="#1f0bfb"/><stop offset="0.296" stop-color="#200cfe"/><stop offset="0.302" stop-color="#2814ff"/><stop offset="0.308" stop-color="#2d1bff"/><stop offset="0.314" stop-color="#2b17ff"/><stop offset="0.320" stop-color="#210dff"/><stop offset="0.325" stop-color="#200cfd"/><stop offset="0.331" stop-color="#1f0bfb"/><stop offset="0.337" stop-color="#1f0bf8"/><stop offset="0.343" stop-color="#1e0af6"/><stop offset="0.349" stop-color="#1d09f2"/><stop offset="0.355" stop-color="#1c08ec"/><stop offset="0.361" stop-color="#1a08d4"/><stop offset="0.367" stop-color="#1709b4"/><stop offset="0.373" stop-color="#140999"/><stop offset="0.378" stop-color="#140998"/><stop offset="0.384" stop-color="#140994"/><stop offset="0.390" stop-color="#13098f"/><stop offset="0.396" stop-color="#130a89"/><stop offset="0.402" stop-color="#120a83"/><stop offset="0.408" stop-color="#120a7e"/><stop offset="0.414" stop-color="#110a7a"/><stop offset="0.420" stop-color="#110a7a"/><stop offset="0.425" stop-color="#110a79"/><stop offset="0.431" stop-color="#110a79"/><stop offset="0.437" stop-color="#110a79"/><stop offset="0.443" stop-color="#110a79"/><stop offset="0.449" stop-color="#110a78"/><stop offset="0.455" stop-color="#110a78"/><stop offset="0.461" stop-color="#110a78"/><stop offset="0.467" stop-color="#110a78"/><stop offset="0.472" stop-color="#110a78"/><stop offset="0.478" stop-color="#110a78"/><stop offset="0.508" stop-color="#110a77"/><stop offset="0.561" stop-color="#110a76"/><stop offset="0.649" stop-color="#110a75"/><stop offset="0.766" stop-color="#110a75"/><stop offset="0.884" stop-color="#110a74"/><stop offset="1.000" stop-color="#110a74"/></linearGradient><linearGradient id="h36" gradientUnits="userSpaceOnUse" x1="149.6" x2="319.8" y1="0" y2="0"><stop offset="0.000" stop-color="#110a75"/><stop offset="0.061" stop-color="#110a76"/><stop offset="0.120" stop-color="#110a77"/><stop offset="0.155" stop-color="#110a78"/><stop offset="0.161" stop-color="#110a78"/><stop offset="0.167" stop-color="#110a78"/><stop offset="0.173" stop-color="#110a79"/><stop offset="0.179" stop-color="#110a79"/><stop offset="0.184" stop-color="#110a79"/><stop offset="0.190" stop-color="#110a79"/><stop offset="0.196" stop-color="#110a7a"/><stop offset="0.202" stop-color="#110a7a"/><stop offset="0.208" stop-color="#110a7a"/><stop offset="0.214" stop-color="#110a7a"/><stop offset="0.220" stop-color="#110a7b"/><stop offset="0.226" stop-color="#120a81"/><stop offset="0.231" stop-color="#130a8a"/><stop offset="0.237" stop-color="#140997"/><stop offset="0.243" stop-color="#1509a7"/><stop offset="0.249" stop-color="#1709ba"/><stop offset="0.255" stop-color="#1908cd"/><stop offset="0.261" stop-color="#1b08df"/><stop offset="0.267" stop-color="#1c08ec"/><stop offset="0.273" stop-color="#1d09f1"/><stop offset="0.278" stop-color="#1e0af4"/><stop offset="0.284" stop-color="#1e0af7"/><stop offset="0.290" stop-color="#1f0bfb"/><stop offset="0.296" stop-color="#200cfd"/><stop offset="0.302" stop-color="#230fff"/><stop offset="0.308" stop-color="#2915ff"/><stop offset="0.314" stop-color="#2613ff"/><stop offset="0.320" stop-color="#200cfe"/><stop offset="0.325" stop-color="#1f0bfc"/><stop offset="0.331" stop-color="#1f0bfa"/><stop offset="0.337" stop-color="#1f0bf8"/><stop offset="0.343" stop-color="#1e0af5"/><stop offset="0.349" stop-color="#1d09f1"/><stop offset="0.355" stop-color="#1c08ea"/><stop offset="0.361" stop-color="#1908ce"/><stop offset="0.367" stop-color="#1609ae"/><stop offset="0.373" stop-color="#140997"/><stop offset="0.378" stop-color="#140995"/><stop offset="0.384" stop-color="#130991"/><stop offset="0.390" stop-color="#130a8c"/><stop offset="0.396" stop-color="#120a87"/><stop offset="0.402" stop-color="#120a82"/><stop offset="0.408" stop-color="#110a7d"/><stop offset="0.414" stop-color="#110a7a"/><stop offset="0.420" stop-color="#110a7a"/><stop offset="0.425" stop-color="#110a79"/><stop offset="0.431" stop-color="#110a79"/><stop offset="0.437" stop-color="#110a79"/><stop offset="0.443" stop-color="#110a79"/><stop offset="0.449" stop-color="#110a78"/><stop offset="0.455" stop-color="#110a78"/><stop offset="0.461" stop-color="#110a78"/><stop offset="0.467" stop-color="#110a78"/><stop offset="0.472" stop-color="#110a78"/><stop offset="0.478" stop-color="#110a78"/><stop offset="0.508" stop-color="#110a77"/><stop offset="0.561" stop-color="#110a76"/><stop offset="0.649" stop-color="#110a75"/><stop offset="0.766" stop-color="#110a75"/><stop offset="0.884" stop-color="#110a74"/><stop offset="1.000" stop-color="#110a74"/></linearGradient><linearGradient id="h37" gradientUnits="userSpaceOnUse" x1="149.6" x2="319.8" y1="0" y2="0"><stop offset="0.000" stop-color="#110a75"/><stop offset="0.061" stop-color="#110a76"/><stop offset="0.120" stop-color="#110a77"/><stop offset="0.155" stop-color="#110a78"/><stop offset="0.161" stop-color="#110a78"/><stop offset="0.167" stop-color="#110a78"/><stop offset="0.173" stop-color="#110a79"/><stop offset="0.179" stop-color="#110a79"/><stop offset="0.184" stop-color="#110a79"/><stop offset="0.190" stop-color="#110a79"/><stop offset="0.196" stop-color="#110a7a"/><stop offset="0.202" stop-color="#110a7a"/><stop offset="0.208" stop-color="#110a7a"/><stop offset="0.214" stop-color="#110a7a"/><stop offset="0.220" stop-color="#110a7b"/><stop offset="0.226" stop-color="#120a7f"/><stop offset="0.231" stop-color="#120a88"/><stop offset="0.237" stop-color="#140994"/><stop offset="0.243" stop-color="#1509a3"/><stop offset="0.249" stop-color="#1709b6"/><stop offset="0.255" stop-color="#1909c9"/><stop offset="0.261" stop-color="#1b08dc"/><stop offset="0.267" stop-color="#1c08ec"/><stop offset="0.273" stop-color="#1d09f0"/><stop offset="0.278" stop-color="#1e0af4"/><stop offset="0.284" stop-color="#1e0af7"/><stop offset="0.290" stop-color="#1f0bfa"/><stop offset="0.296" stop-color="#200cfd"/><stop offset="0.302" stop-color="#200cff"/><stop offset="0.308" stop-color="#2410ff"/><stop offset="0.314" stop-color="#220eff"/><stop offset="0.320" stop-color="#200cfe"/><stop offset="0.325" stop-color="#1f0bfc"/><stop offset="0.331" stop-color="#1f0bfa"/><stop offset="0.337" stop-color="#1f0bf8"/><stop offset="0.343" stop-color="#1e0af5"/><stop offset="0.349" stop-color="#1d09f0"/><stop offset="0.355" stop-color="#1b08e5"/><stop offset="0.361" stop-color="#1909c8"/><stop offset="0.367" stop-color="#1609a8"/><stop offset="0.373" stop-color="#140995"/><stop offset="0.378" stop-color="#140993"/><stop offset="0.384" stop-color="#13098f"/><stop offset="0.390" stop-color="#130a8a"/><stop offset="0.396" stop-color="#120a85"/><stop offset="0.402" stop-color="#120a80"/><stop offset="0.408" stop-color="#110a7b"/><stop offset="0.414" stop-color="#110a7a"/><stop offset="0.420" stop-color="#110a7a"/><stop offset="0.425" stop-color="#110a79"/><stop offset="0.431" stop-color="#110a79"/><stop offset="0.437" stop-color="#110a79"/><stop offset="0.443" stop-color="#110a79"/><stop offset="0.449" stop-color="#110a78"/><stop offset="0.455" stop-color="#110a78"/><stop offset="0.461" stop-color="#110a78"/><stop offset="0.467" stop-color="#110a78"/><stop offset="0.472" stop-color="#110a78"/><stop offset="0.478" stop-color="#110a78"/><stop offset="0.508" stop-color="#110a77"/><stop offset="0.561" stop-color="#110a76"/><stop offset="0.649" stop-color="#110a75"/><stop offset="0.766" stop-color="#110a75"/><stop offset="0.884" stop-color="#110a74"/><stop offset="1.000" stop-color="#110a74"/></linearGradient><linearGradient id="h38" gradientUnits="userSpaceOnUse" x1="149.6" x2="319.8" y1="0" y2="0"><stop offset="0.000" stop-color="#110a75"/><stop offset="0.061" stop-color="#110a76"/><stop offset="0.120" stop-color="#110a77"/><stop offset="0.155" stop-color="#110a78"/><stop offset="0.161" stop-color="#110a78"/><stop offset="0.167" stop-color="#110a78"/><stop offset="0.173" stop-color="#110a79"/><stop offset="0.179" stop-color="#110a79"/><stop offset="0.184" stop-color="#110a79"/><stop offset="0.190" stop-color="#110a79"/><stop offset="0.196" stop-color="#110a7a"/><stop offset="0.202" stop-color="#110a7a"/><stop offset="0.208" stop-color="#110a7a"/><stop offset="0.214" stop-color="#110a7a"/><stop offset="0.220" stop-color="#110a7b"/><stop offset="0.226" stop-color="#110a7d"/><stop offset="0.231" stop-color="#120a85"/><stop offset="0.237" stop-color="#130990"/><stop offset="0.243" stop-color="#15099f"/><stop offset="0.249" stop-color="#1609b1"/><stop offset="0.255" stop-color="#1809c5"/><stop offset="0.261" stop-color="#1a08d9"/><stop offset="0.267" stop-color="#1c08ea"/><stop offset="0.273" stop-color="#1d09ef"/><stop offset="0.278" stop-color="#1e0af3"/><stop offset="0.284" stop-color="#1e0af6"/><stop offset="0.290" stop-color="#1f0bf9"/><stop offset="0.296" stop-color="#1f0bfc"/><stop offset="0.302" stop-color="#200cfe"/><stop offset="0.308" stop-color="#200cff"/><stop offset="0.314" stop-color="#200cfe"/><stop offset="0.320" stop-color="#200cfd"/><stop offset="0.325" stop-color="#1f0bfb"/><stop offset="0.331" stop-color="#1f0bf9"/><stop offset="0.337" stop-color="#1e0af7"/><stop offset="0.343" stop-color="#1e0af4"/><stop offset="0.349" stop-color="#1d09ef"/><stop offset="0.355" stop-color="#1b08e0"/><stop offset="0.361" stop-color="#1809c1"/><stop offset="0.367" stop-color="#1509a3"/><stop offset="0.373" stop-color="#130992"/><stop offset="0.378" stop-color="#130991"/><stop offset="0.384" stop-color="#130a8d"/><stop offset="0.390" stop-color="#130a89"/><stop offset="0.396" stop-color="#120a84"/><stop offset="0.402" stop-color="#120a7f"/><stop offset="0.408" stop-color="#110a7a"/><stop offset="0.414" stop-color="#110a7a"/><stop offset="0.420" stop-color="#110a7a"/><stop offset="0.425" stop-color="#110a79"/><stop offset="0.431" stop-color="#110a79"/><stop offset="0.437" stop-color="#110a79"/><stop offset="0.443" stop-color="#110a79"/><stop offset="0.449" stop-color="#110a78"/><stop offset="0.455" stop-color="#110a78"/><stop offset="0.461" stop-color="#110a78"/><stop offset="0.467" stop-color="#110a78"/><stop offset="0.472" stop-color="#110a78"/><stop offset="0.478" stop-color="#110a78"/><stop offset="0.508" stop-color="#110a77"/><stop offset="0.561" stop-color="#110a76"/><stop offset="0.649" stop-color="#110a75"/><stop offset="0.766" stop-color="#110a75"/><stop offset="0.884" stop-color="#110a74"/><stop offset="1.000" stop-color="#110a74"/></linearGradient><linearGradient id="h39" gradientUnits="userSpaceOnUse" x1="149.6" x2="319.8" y1="0" y2="0"><stop offset="0.000" stop-color="#110a75"/><stop offset="0.061" stop-color="#110a76"/><stop offset="0.120" stop-color="#110a77"/><stop offset="0.155" stop-color="#110a78"/><stop offset="0.161" stop-color="#110a78"/><stop offset="0.167" stop-color="#110a78"/><stop offset="0.173" stop-color="#110a79"/><stop offset="0.179" stop-color="#110a79"/><stop offset="0.184" stop-color="#110a79"/><stop offset="0.190" stop-color="#110a79"/><stop offset="0.196" stop-color="#110a7a"/><stop offset="0.202" stop-color="#110a7a"/><stop offset="0.208" stop-color="#110a7a"/><stop offset="0.214" stop-color="#110a7a"/><stop offset="0.220" stop-color="#110a7b"/><stop offset="0.226" stop-color="#110a7b"/><stop offset="0.231" stop-color="#120a83"/><stop offset="0.237" stop-color="#13098d"/><stop offset="0.243" stop-color="#14099c"/><stop offset="0.249" stop-color="#1609ad"/><stop offset="0.255" stop-color="#1809c1"/><stop offset="0.261" stop-color="#1a08d5"/><stop offset="0.267" stop-color="#1c08e7"/><stop offset="0.273" stop-color="#1d09ef"/><stop offset="0.278" stop-color="#1e0af3"/><stop offset="0.284" stop-color="#1e0af6"/><stop offset="0.290" stop-color="#1f0bf9"/><stop offset="0.296" stop-color="#1f0bfb"/><stop offset="0.302" stop-color="#200cfd"/><stop offset="0.308" stop-color="#200cfe"/><stop offset="0.314" stop-color="#200cfe"/><stop offset="0.320" stop-color="#200cfd"/><stop offset="0.325" stop-color="#1f0bfb"/><stop offset="0.331" stop-color="#1f0bf9"/><stop offset="0.337" stop-color="#1e0af7"/><stop offset="0.343" stop-color="#1e0af3"/><stop offset="0.349" stop-color="#1d09ee"/><stop offset="0.355" stop-color="#1a08da"/><stop offset="0.361" stop-color="#1709bb"/><stop offset="0.367" stop-color="#15099d"/><stop offset="0.373" stop-color="#130990"/><stop offset="0.378" stop-color="#13098f"/><stop offset="0.384" stop-color="#130a8b"/><stop offset="0.390" stop-color="#120a87"/><stop offset="0.396" stop-color="#120a82"/><stop offset="0.402" stop-color="#110a7d"/><stop offset="0.408" stop-color="#110a7a"/><stop offset="0.414" stop-color="#110a7a"/><stop offset="0.420" stop-color="#110a7a"/><stop offset="0.425" stop-color="#110a79"/><stop offset="0.431" stop-color="#110a79"/><stop offset="0.437" stop-color="#110a79"/><stop offset="0.443" stop-color="#110a79"/><stop offset="0.449" stop-color="#110a78"/><stop offset="0.455" stop-color="#110a78"/><stop offset="0.461" stop-color="#110a78"/><stop offset="0.467" stop-color="#110a78"/><stop offset="0.472" stop-color="#110a78"/><stop offset="0.478" stop-color="#110a78"/><stop offset="0.508" stop-color="#110a77"/><stop offset="0.561" stop-color="#110a76"/><stop offset="0.649" stop-color="#110a75"/><stop offset="0.766" stop-color="#110a75"/><stop offset="0.884" stop-color="#110a74"/><stop offset="1.000" stop-color="#110a74"/></linearGradient><linearGradient id="h40" gradientUnits="userSpaceOnUse" x1="149.6" x2="319.8" y1="0" y2="0"><stop offset="0.000" stop-color="#110a75"/><stop offset="0.061" stop-color="#110a76"/><stop offset="0.120" stop-color="#110a77"/><stop offset="0.155" stop-color="#110a78"/><stop offset="0.161" stop-color="#110a78"/><stop offset="0.167" stop-color="#110a78"/><stop offset="0.173" stop-color="#110a79"/><stop offset="0.179" stop-color="#110a79"/><stop offset="0.184" stop-color="#110a79"/><stop offset="0.190" stop-color="#110a79"/><stop offset="0.196" stop-color="#110a7a"/><stop offset="0.202" stop-color="#110a7a"/><stop offset="0.208" stop-color="#110a7a"/><stop offset="0.214" stop-color="#110a7a"/><stop offset="0.220" stop-color="#110a7b"/><stop offset="0.226" stop-color="#110a7b"/><stop offset="0.231" stop-color="#120a80"/><stop offset="0.237" stop-color="#130a8a"/><stop offset="0.243" stop-color="#140998"/><stop offset="0.249" stop-color="#1609a9"/><stop offset="0.255" stop-color="#1809bd"/><stop offset="0.261" stop-color="#1a08d2"/><stop offset="0.267" stop-color="#1b08e5"/><stop offset="0.273" stop-color="#1d09ee"/><stop offset="0.278" stop-color="#1d09f2"/><stop offset="0.284" stop-color="#1e0af6"/><stop offset="0.290" stop-color="#1f0bf9"/><stop offset="0.296" stop-color="#1f0bfb"/><stop offset="0.302" stop-color="#200cfd"/><stop offset="0.308" stop-color="#200cfe"/><stop offset="0.314" stop-color="#200cfd"/><stop offset="0.320" stop-color="#1f0bfc"/><stop offset="0.325" stop-color="#1f0bfb"/><stop offset="0.331" stop-color="#1f0bf9"/><stop offset="0.337" stop-color="#1e0af6"/><stop offset="0.343" stop-color="#1d09f2"/><stop offset="0.349" stop-color="#1c08ec"/><stop offset="0.355" stop-color="#1a08d4"/><stop offset="0.361" stop-color="#1709b4"/><stop offset="0.367" stop-color="#140998"/><stop offset="0.373" stop-color="#13098e"/><stop offset="0.378" stop-color="#130a8c"/><stop offset="0.384" stop-color="#130a89"/><stop offset="0.390" stop-color="#120a85"/><stop offset="0.396" stop-color="#120a81"/><stop offset="0.402" stop-color="#110a7c"/><stop offset="0.408" stop-color="#110a7a"/><stop offset="0.414" stop-color="#110a7a"/><stop offset="0.420" stop-color="#110a7a"/><stop offset="0.425" stop-color="#110a79"/><stop offset="0.431" stop-color="#110a79"/><stop offset="0.437" stop-color="#110a79"/><stop offset="0.443" stop-color="#110a79"/><stop offset="0.449" stop-color="#110a78"/><stop offset="0.455" stop-color="#110a78"/><stop offset="0.461" stop-color="#110a78"/><stop offset="0.467" stop-color="#110a78"/><stop offset="0.472" stop-color="#110a78"/><stop offset="0.478" stop-color="#110a78"/><stop offset="0.508" stop-color="#110a77"/><stop offset="0.561" stop-color="#110a76"/><stop offset="0.649" stop-color="#110a75"/><stop offset="0.766" stop-color="#110a75"/><stop offset="0.884" stop-color="#110a74"/><stop offset="1.000" stop-color="#110a74"/></linearGradient><linearGradient id="h41" gradientUnits="userSpaceOnUse" x1="149.6" x2="319.8" y1="0" y2="0"><stop offset="0.000" stop-color="#110a75"/><stop offset="0.061" stop-color="#110a76"/><stop offset="0.120" stop-color="#110a77"/><stop offset="0.155" stop-color="#110a78"/><stop offset="0.161" stop-color="#110a78"/><stop offset="0.167" stop-color="#110a78"/><stop offset="0.173" stop-color="#110a79"/><stop offset="0.179" stop-color="#110a79"/><stop offset="0.184" stop-color="#110a79"/><stop offset="0.190" stop-color="#110a79"/><stop offset="0.196" stop-color="#110a7a"/><stop offset="0.202" stop-color="#110a7a"/><stop offset="0.208" stop-color="#110a7a"/><stop offset="0.214" stop-color="#110a7a"/><stop offset="0.220" stop-color="#110a7b"/><stop offset="0.226" stop-color="#110a7b"/><stop offset="0.231" stop-color="#120a7e"/><stop offset="0.237" stop-color="#120a87"/><stop offset="0.243" stop-color="#140994"/><stop offset="0.249" stop-color="#1509a5"/><stop offset="0.255" stop-color="#1709b9"/><stop offset="0.261" stop-color="#1908ce"/><stop offset="0.267" stop-color="#1b08e2"/><stop offset="0.273" stop-color="#1c08ed"/><stop offset="0.278" stop-color="#1d09f2"/><stop offset="0.284" stop-color="#1e0af5"/><stop offset="0.290" stop-color="#1f0bf8"/><stop offset="0.296" stop-color="#1f0bfa"/><stop offset="0.302" stop-color="#1f0bfc"/><stop offset="0.308" stop-color="#200cfd"/><stop offset="0.314" stop-color="#200cfd"/><stop offset="0.320" stop-color="#1f0bfc"/><stop offset="0.325" stop-color="#1f0bfa"/><stop offset="0.331" stop-color="#1f0bf8"/><stop offset="0.337" stop-color="#1e0af5"/><stop offset="0.343" stop-color="#1d09f1"/><stop offset="0.349" stop-color="#1c08eb"/><stop offset="0.355" stop-color="#1908ce"/><stop offset="0.361" stop-color="#1609ae"/><stop offset="0.367" stop-color="#140994"/><stop offset="0.373" stop-color="#130a8c"/><stop offset="0.378" stop-color="#130a8b"/><stop offset="0.384" stop-color="#120a87"/><stop offset="0.390" stop-color="#120a83"/><stop offset="0.396" stop-color="#120a7f"/><stop offset="0.402" stop-color="#110a7b"/><stop offset="0.408" stop-color="#110a7a"/><stop offset="0.414" stop-color="#110a7a"/><stop offset="0.420" stop-color="#110a7a"/><stop offset="0.425" stop-color="#110a79"/><stop offset="0.431" stop-color="#110a79"/><stop offset="0.437" stop-color="#110a79"/><stop offset="0.443" stop-color="#110a79"/><stop offset="0.449" stop-color="#110a78"/><stop offset="0.455" stop-color="#110a78"/><stop offset="0.461" stop-color="#110a78"/><stop offset="0.467" stop-color="#110a78"/><stop offset="0.472" stop-color="#110a78"/><stop offset="0.478" stop-color="#110a78"/><stop offset="0.508" stop-color="#110a77"/><stop offset="0.561" stop-color="#110a76"/><stop offset="0.649" stop-color="#110a75"/><stop offset="0.766" stop-color="#110a75"/><stop offset="0.884" stop-color="#110a74"/><stop offset="1.000" stop-color="#110a74"/></linearGradient><linearGradient id="h42" gradientUnits="userSpaceOnUse" x1="149.6" x2="319.8" y1="0" y2="0"><stop offset="0.000" stop-color="#110a75"/><stop offset="0.061" stop-color="#110a76"/><stop offset="0.120" stop-color="#110a77"/><stop offset="0.155" stop-color="#110a78"/><stop offset="0.161" stop-color="#110a78"/><stop offset="0.167" stop-color="#110a78"/><stop offset="0.173" stop-color="#110a79"/><stop offset="0.179" stop-color="#110a79"/><stop offset="0.184" stop-color="#110a79"/><stop offset="0.190" stop-color="#110a79"/><stop offset="0.196" stop-color="#110a7a"/><stop offset="0.202" stop-color="#110a7a"/><stop offset="0.208" stop-color="#110a7a"/><stop offset="0.214" stop-color="#110a7a"/><stop offset="0.220" stop-color="#110a7b"/><stop offset="0.226" stop-color="#110a7b"/><stop offset="0.231" stop-color="#110a7c"/><stop offset="0.237" stop-color="#120a85"/><stop offset="0.243" stop-color="#130991"/><stop offset="0.249" stop-color="#1509a1"/><stop offset="0.255" stop-color="#1709b4"/><stop offset="0.261" stop-color="#1909ca"/><stop offset="0.267" stop-color="#1b08de"/><stop offset="0.273" stop-color="#1c08ed"/><stop offset="0.278" stop-color="#1d09f1"/><stop offset="0.284" stop-color="#1e0af5"/><stop offset="0.290" stop-color="#1f0bf8"/><stop offset="0.296" stop-color="#1f0bfa"/><stop offset="0.302" stop-color="#1f0bfc"/><stop offset="0.308" stop-color="#1f0bfc"/><stop offset="0.314" stop-color="#1f0bfc"/><stop offset="0.320" stop-color="#1f0bfb"/><stop offset="0.325" stop-color="#1f0bfa"/><stop offset="0.331" stop-color="#1f0bf8"/><stop offset="0.337" stop-color="#1e0af5"/><stop offset="0.343" stop-color="#1d09f0"/><stop offset="0.349" stop-color="#1b08e5"/><stop offset="0.355" stop-color="#1909c7"/><stop offset="0.361" stop-color="#1609a8"/><stop offset="0.367" stop-color="#13098f"/><stop offset="0.373" stop-color="#130a8a"/><stop offset="0.378" stop-color="#130a89"/><stop offset="0.384" stop-color="#120a86"/><stop offset="0.390" stop-color="#120a82"/><stop offset="0.396" stop-color="#120a7e"/><stop offset="0.402" stop-color="#110a7a"/><stop offset="0.408" stop-color="#110a7a"/><stop offset="0.414" stop-color="#110a7a"/><stop offset="0.420" stop-color="#110a7a"/><stop offset="0.425" stop-color="#110a79"/><stop offset="0.431" stop-color="#110a79"/><stop offset="0.437" stop-color="#110a79"/><stop offset="0.443" stop-color="#110a79"/><stop offset="0.449" stop-color="#110a78"/><stop offset="0.455" stop-color="#110a78"/><stop offset="0.461" stop-color="#110a78"/><stop offset="0.467" stop-color="#110a78"/><stop offset="0.472" stop-color="#110a78"/><stop offset="0.478" stop-color="#110a78"/><stop offset="0.508" stop-color="#110a77"/><stop offset="0.561" stop-color="#110a76"/><stop offset="0.649" stop-color="#110a75"/><stop offset="0.766" stop-color="#110a75"/><stop offset="0.884" stop-color="#110a74"/><stop offset="1.000" stop-color="#110a74"/></linearGradient><linearGradient id="h43" gradientUnits="userSpaceOnUse" x1="149.6" x2="319.8" y1="0" y2="0"><stop offset="0.000" stop-color="#110a75"/><stop offset="0.061" stop-color="#110a76"/><stop offset="0.120" stop-color="#110a77"/><stop offset="0.155" stop-color="#110a78"/><stop offset="0.161" stop-color="#110a78"/><stop offset="0.167" stop-color="#110a78"/><stop offset="0.173" stop-color="#110a79"/><stop offset="0.179" stop-color="#110a79"/><stop offset="0.184" stop-color="#110a79"/><stop offset="0.190" stop-color="#110a79"/><stop offset="0.196" stop-color="#110a7a"/><stop offset="0.202" stop-color="#110a7a"/><stop offset="0.208" stop-color="#110a7a"/><stop offset="0.214" stop-color="#110a7a"/><stop offset="0.220" stop-color="#110a7b"/><stop offset="0.226" stop-color="#110a7b"/><stop offset="0.231" stop-color="#110a7b"/><stop offset="0.237" stop-color="#120a80"/><stop offset="0.243" stop-color="#130a8a"/><stop offset="0.249" stop-color="#140998"/><stop offset="0.255" stop-color="#1609ab"/><stop offset="0.261" stop-color="#1809c0"/><stop offset="0.267" stop-color="#1a08d5"/><stop offset="0.273" stop-color="#1c08e9"/><stop offset="0.278" stop-color="#1d09ef"/><stop offset="0.284" stop-color="#1e0af4"/><stop offset="0.290" stop-color="#1e0af7"/><stop offset="0.296" stop-color="#1f0bf9"/><stop offset="0.302" stop-color="#1f0bfb"/><stop offset="0.308" stop-color="#1f0bfc"/><stop offset="0.314" stop-color="#1f0bfc"/><stop offset="0.320" stop-color="#1f0bfb"/><stop offset="0.325" stop-color="#1f0bf9"/><stop offset="0.331" stop-color="#1e0af7"/><stop offset="0.337" stop-color="#1e0af3"/><stop offset="0.343" stop-color="#1c08ed"/><stop offset="0.349" stop-color="#1a08d8"/><stop offset="0.355" stop-color="#1709b9"/><stop offset="0.361" stop-color="#14099c"/><stop offset="0.367" stop-color="#120a88"/><stop offset="0.373" stop-color="#130a89"/><stop offset="0.378" stop-color="#120a87"/><stop offset="0.384" stop-color="#120a84"/><stop offset="0.390" stop-color="#120a80"/><stop offset="0.396" stop-color="#110a7d"/><stop offset="0.402" stop-color="#110a7a"/><stop offset="0.408" stop-color="#110a7a"/><stop offset="0.414" stop-color="#110a7a"/><stop offset="0.420" stop-color="#110a7a"/><stop offset="0.425" stop-color="#110a79"/><stop offset="0.431" stop-color="#110a79"/><stop offset="0.437" stop-color="#110a79"/><stop offset="0.443" stop-color="#110a79"/><stop offset="0.449" stop-color="#110a78"/><stop offset="0.455" stop-color="#110a78"/><stop offset="0.461" stop-color="#110a78"/><stop offset="0.467" stop-color="#110a78"/><stop offset="0.472" stop-color="#110a78"/><stop offset="0.478" stop-color="#110a78"/><stop offset="0.508" stop-color="#110a77"/><stop offset="0.561" stop-color="#110a76"/><stop offset="0.649" stop-color="#110a75"/><stop offset="0.766" stop-color="#110a75"/><stop offset="0.884" stop-color="#110a74"/><stop offset="1.000" stop-color="#110a74"/></linearGradient><linearGradient id="h44" gradientUnits="userSpaceOnUse" x1="149.6" x2="319.8" y1="0" y2="0"><stop offset="0.000" stop-color="#110a75"/><stop offset="0.061" stop-color="#110a76"/><stop offset="0.120" stop-color="#110a77"/><stop offset="0.155" stop-color="#110a78"/><stop offset="0.161" stop-color="#110a78"/><stop offset="0.167" stop-color="#110a78"/><stop offset="0.173" stop-color="#110a79"/><stop offset="0.179" stop-color="#110a79"/><stop offset="0.184" stop-color="#110a79"/><stop offset="0.190" stop-color="#110a79"/><stop offset="0.196" stop-color="#110a7a"/><stop offset="0.202" stop-color="#110a7a"/><stop offset="0.208" stop-color="#110a7a"/><stop offset="0.214" stop-color="#110a7a"/><stop offset="0.220" stop-color="#110a7b"/><stop offset="0.226" stop-color="#110a7b"/><stop offset="0.231" stop-color="#110a7b"/><stop offset="0.237" stop-color="#110a7c"/><stop offset="0.243" stop-color="#120a84"/><stop offset="0.249" stop-color="#130990"/><stop offset="0.255" stop-color="#1509a1"/><stop offset="0.261" stop-color="#1709b6"/><stop offset="0.267" stop-color="#1908cc"/><stop offset="0.273" stop-color="#1b08e1"/><stop offset="0.278" stop-color="#1d09ee"/><stop offset="0.284" stop-color="#1d09f2"/><stop offset="0.290" stop-color="#1e0af6"/><stop offset="0.296" stop-color="#1f0bf8"/><stop offset="0.302" stop-color="#1f0bfa"/><stop offset="0.308" stop-color="#1f0bfb"/><stop offset="0.314" stop-color="#1f0bfb"/><stop offset="0.320" stop-color="#1f0bfa"/><stop offset="0.325" stop-color="#1f0bf8"/><stop offset="0.331" stop-color="#1e0af5"/><stop offset="0.337" stop-color="#1d09f1"/><stop offset="0.343" stop-color="#1c08e8"/><stop offset="0.349" stop-color="#1909ca"/><stop offset="0.355" stop-color="#1609ab"/><stop offset="0.361" stop-color="#130991"/><stop offset="0.367" stop-color="#120a86"/><stop offset="0.373" stop-color="#120a87"/><stop offset="0.378" stop-color="#120a85"/><stop offset="0.384" stop-color="#120a83"/><stop offset="0.390" stop-color="#120a7f"/><stop offset="0.396" stop-color="#110a7c"/><stop offset="0.402" stop-color="#110a7a"/><stop offset="0.408" stop-color="#110a7a"/><stop offset="0.414" stop-color="#110a7a"/><stop offset="0.420" stop-color="#110a7a"/><stop offset="0.425" stop-color="#110a79"/><stop offset="0.431" stop-color="#110a79"/><stop offset="0.437" stop-color="#110a79"/><stop offset="0.443" stop-color="#110a79"/><stop offset="0.449" stop-color="#110a78"/><stop offset="0.455" stop-color="#110a78"/><stop offset="0.461" stop-color="#110a78"/><stop offset="0.467" stop-color="#110a78"/><stop offset="0.472" stop-color="#110a78"/><stop offset="0.478" stop-color="#110a78"/><stop offset="0.508" stop-color="#110a77"/><stop offset="0.561" stop-color="#110a76"/><stop offset="0.649" stop-color="#110a75"/><stop offset="0.766" stop-color="#110a75"/><stop offset="0.884" stop-color="#110a74"/><stop offset="1.000" stop-color="#110a74"/></linearGradient><linearGradient id="h45" gradientUnits="userSpaceOnUse" x1="149.6" x2="319.8" y1="0" y2="0"><stop offset="0.000" stop-color="#110a75"/><stop offset="0.061" stop-color="#110a76"/><stop offset="0.120" stop-color="#110a77"/><stop offset="0.155" stop-color="#110a78"/><stop offset="0.161" stop-color="#110a78"/><stop offset="0.167" stop-color="#110a78"/><stop offset="0.173" stop-color="#110a79"/><stop offset="0.179" stop-color="#110a79"/><stop offset="0.184" stop-color="#110a79"/><stop offset="0.190" stop-color="#110a79"/><stop offset="0.196" stop-color="#110a7a"/><stop offset="0.202" stop-color="#110a7a"/><stop offset="0.208" stop-color="#110a7a"/><stop offset="0.214" stop-color="#110a7a"/><stop offset="0.220" stop-color="#110a7b"/><stop offset="0.226" stop-color="#110a7b"/><stop offset="0.231" stop-color="#110a7b"/><stop offset="0.237" stop-color="#110a7b"/><stop offset="0.243" stop-color="#120a7f"/><stop offset="0.249" stop-color="#130a8a"/><stop offset="0.255" stop-color="#140998"/><stop offset="0.261" stop-color="#1609ac"/><stop offset="0.267" stop-color="#1809c2"/><stop offset="0.273" stop-color="#1a08d8"/><stop offset="0.278" stop-color="#1c08eb"/><stop offset="0.284" stop-color="#1d09f1"/><stop offset="0.290" stop-color="#1e0af5"/><stop offset="0.296" stop-color="#1e0af7"/><stop offset="0.302" stop-color="#1f0bf9"/><stop offset="0.308" stop-color="#1f0bfa"/><stop offset="0.314" stop-color="#1f0bfa"/><stop offset="0.320" stop-color="#1f0bf9"/><stop offset="0.325" stop-color="#1e0af7"/><stop offset="0.331" stop-color="#1e0af4"/><stop offset="0.337" stop-color="#1d09ee"/><stop offset="0.343" stop-color="#1a08db"/><stop offset="0.349" stop-color="#1709bb"/><stop offset="0.355" stop-color="#15099e"/><stop offset="0.361" stop-color="#130a88"/><stop offset="0.367" stop-color="#120a85"/><stop offset="0.373" stop-color="#120a86"/><stop offset="0.378" stop-color="#120a84"/><stop offset="0.384" stop-color="#120a81"/><stop offset="0.390" stop-color="#120a7e"/><stop offset="0.396" stop-color="#110a7b"/><stop offset="0.402" stop-color="#110a7a"/><stop offset="0.408" stop-color="#110a7a"/><stop offset="0.414" stop-color="#110a7a"/><stop offset="0.420" stop-color="#110a7a"/><stop offset="0.425" stop-color="#110a79"/><stop offset="0.431" stop-color="#110a79"/><stop offset="0.437" stop-color="#110a79"/><stop offset="0.443" stop-color="#110a79"/><stop offset="0.449" stop-color="#110a78"/><stop offset="0.455" stop-color="#110a78"/><stop offset="0.461" stop-color="#110a78"/><stop offset="0.467" stop-color="#110a78"/><stop offset="0.472" stop-color="#110a78"/><stop offset="0.478" stop-color="#110a78"/><stop offset="0.508" stop-color="#110a77"/><stop offset="0.561" stop-color="#110a76"/><stop offset="0.649" stop-color="#110a75"/><stop offset="0.766" stop-color="#110a75"/><stop offset="0.884" stop-color="#110a74"/><stop offset="1.000" stop-color="#110a74"/></linearGradient><linearGradient id="h46" gradientUnits="userSpaceOnUse" x1="149.6" x2="319.8" y1="0" y2="0"><stop offset="0.000" stop-color="#110a75"/><stop offset="0.061" stop-color="#110a76"/><stop offset="0.120" stop-color="#110a77"/><stop offset="0.155" stop-color="#110a78"/><stop offset="0.161" stop-color="#110a78"/><stop offset="0.167" stop-color="#110a78"/><stop offset="0.173" stop-color="#110a79"/><stop offset="0.179" stop-color="#110a79"/><stop offset="0.184" stop-color="#110a79"/><stop offset="0.190" stop-color="#110a79"/><stop offset="0.196" stop-color="#110a7a"/><stop offset="0.202" stop-color="#110a7a"/><stop offset="0.208" stop-color="#110a7a"/><stop offset="0.214" stop-color="#110a7a"/><stop offset="0.220" stop-color="#110a7b"/><stop offset="0.226" stop-color="#110a7b"/><stop offset="0.231" stop-color="#110a7b"/><stop offset="0.237" stop-color="#110a7b"/><stop offset="0.243" stop-color="#110a7c"/><stop offset="0.249" stop-color="#120a84"/><stop offset="0.255" stop-color="#130991"/><stop offset="0.261" stop-color="#1509a3"/><stop offset="0.267" stop-color="#1709b8"/><stop offset="0.273" stop-color="#1908cf"/><stop offset="0.278" stop-color="#1b08e5"/><stop offset="0.284" stop-color="#1d09ef"/><stop offset="0.290" stop-color="#1e0af3"/><stop offset="0.296" stop-color="#1e0af6"/><stop offset="0.302" stop-color="#1f0bf8"/><stop offset="0.308" stop-color="#1f0bf9"/><stop offset="0.314" stop-color="#1f0bf9"/><stop offset="0.320" stop-color="#1f0bf8"/><stop offset="0.325" stop-color="#1e0af6"/><stop offset="0.331" stop-color="#1d09f2"/><stop offset="0.337" stop-color="#1c08eb"/><stop offset="0.343" stop-color="#1908ce"/><stop offset="0.349" stop-color="#1609ae"/><stop offset="0.355" stop-color="#140994"/><stop offset="0.361" stop-color="#120a82"/><stop offset="0.367" stop-color="#120a84"/><stop offset="0.373" stop-color="#120a85"/><stop offset="0.378" stop-color="#120a83"/><stop offset="0.384" stop-color="#120a80"/><stop offset="0.390" stop-color="#110a7d"/><stop offset="0.396" stop-color="#110a7b"/><stop offset="0.402" stop-color="#110a7a"/><stop offset="0.408" stop-color="#110a7a"/><stop offset="0.414" stop-color="#110a7a"/><stop offset="0.420" stop-color="#110a7a"/><stop offset="0.425" stop-color="#110a79"/><stop offset="0.431" stop-color="#110a79"/><stop offset="0.437" stop-color="#110a79"/><stop offset="0.443" stop-color="#110a79"/><stop offset="0.449" stop-color="#110a78"/><stop offset="0.455" stop-color="#110a78"/><stop offset="0.461" stop-color="#110a78"/><stop offset="0.467" stop-color="#110a78"/><stop offset="0.472" stop-color="#110a78"/><stop offset="0.478" stop-color="#110a78"/><stop offset="0.508" stop-color="#110a77"/><stop offset="0.561" stop-color="#110a76"/><stop offset="0.649" stop-color="#110a75"/><stop offset="0.766" stop-color="#110a75"/><stop offset="0.884" stop-color="#110a74"/><stop offset="1.000" stop-color="#110a74"/></linearGradient><linearGradient id="cb" x1="0" x2="0" y1="0" y2="1"><stop offset="0.00" stop-color="#ffffff"/><stop offset="0.08" stop-color="#ffffff"/><stop offset="0.22" stop-color="#dcd7ff"/><stop offset="0.43" stop-color="#968cff"/><stop offset="0.58" stop-color="#200cff"/><stop offset="0.72" stop-color="#1c08ee"/><stop offset="1.00" stop-color="#100a6e"/></linearGradient></defs>
<rect x="149.6" y="107.60" width="170.20" height="3.40" fill="url(#h0)"/><rect x="149.6" y="110.60" width="170.20" height="3.40" fill="url(#h1)"/><rect x="149.6" y="113.60" width="170.20" height="3.40" fill="url(#h2)"/><rect x="149.6" y="116.60" width="170.20" height="3.40" fill="url(#h3)"/><rect x="149.6" y="119.60" width="170.20" height="3.40" fill="url(#h4)"/><rect x="149.6" y="122.60" width="170.20" height="3.40" fill="url(#h5)"/><rect x="149.6" y="125.60" width="170.20" height="3.40" fill="url(#h6)"/><rect x="149.6" y="128.60" width="170.20" height="3.40" fill="url(#h7)"/><rect x="149.6" y="131.60" width="170.20" height="3.40" fill="url(#h8)"/><rect x="149.6" y="134.60" width="170.20" height="3.40" fill="url(#h9)"/><rect x="149.6" y="137.60" width="170.20" height="3.40" fill="url(#h10)"/><rect x="149.6" y="140.60" width="170.20" height="3.40" fill="url(#h11)"/><rect x="149.6" y="143.60" width="170.20" height="3.40" fill="url(#h12)"/><rect x="149.6" y="146.60" width="170.20" height="3.40" fill="url(#h13)"/><rect x="149.6" y="149.60" width="170.20" height="3.40" fill="url(#h14)"/><rect x="149.6" y="152.60" width="170.20" height="3.40" fill="url(#h15)"/><rect x="149.6" y="155.60" width="170.20" height="3.40" fill="url(#h16)"/><rect x="149.6" y="158.60" width="170.20" height="3.40" fill="url(#h17)"/><rect x="149.6" y="161.60" width="170.20" height="3.40" fill="url(#h18)"/><rect x="149.6" y="164.60" width="170.20" height="3.40" fill="url(#h19)"/><rect x="149.6" y="167.60" width="170.20" height="3.40" fill="url(#h20)"/><rect x="149.6" y="170.60" width="170.20" height="3.40" fill="url(#h21)"/><rect x="149.6" y="173.60" width="170.20" height="3.40" fill="url(#h22)"/><rect x="149.6" y="176.60" width="170.20" height="3.40" fill="url(#h23)"/><rect x="149.6" y="179.60" width="170.20" height="3.40" fill="url(#h24)"/><rect x="149.6" y="182.60" width="170.20" height="3.40" fill="url(#h25)"/><rect x="149.6" y="185.60" width="170.20" height="3.40" fill="url(#h26)"/><rect x="149.6" y="188.60" width="170.20" height="3.40" fill="url(#h27)"/><rect x="149.6" y="191.60" width="170.20" height="3.40" fill="url(#h28)"/><rect x="149.6" y="194.60" width="170.20" height="3.40" fill="url(#h29)"/><rect x="149.6" y="197.60" width="170.20" height="3.40" fill="url(#h30)"/><rect x="149.6" y="200.60" width="170.20" height="3.40" fill="url(#h31)"/><rect x="149.6" y="203.60" width="170.20" height="3.40" fill="url(#h32)"/><rect x="149.6" y="206.60" width="170.20" height="3.40" fill="url(#h33)"/><rect x="149.6" y="209.60" width="170.20" height="3.40" fill="url(#h34)"/><rect x="149.6" y="212.60" width="170.20" height="3.40" fill="url(#h35)"/><rect x="149.6" y="215.60" width="170.20" height="3.40" fill="url(#h36)"/><rect x="149.6" y="218.60" width="170.20" height="3.40" fill="url(#h37)"/><rect x="149.6" y="221.60" width="170.20" height="3.40" fill="url(#h38)"/><rect x="149.6" y="224.60" width="170.20" height="3.40" fill="url(#h39)"/><rect x="149.6" y="227.60" width="170.20" height="3.40" fill="url(#h40)"/><rect x="149.6" y="230.60" width="170.20" height="3.40" fill="url(#h41)"/><rect x="149.6" y="233.60" width="170.20" height="3.40" fill="url(#h42)"/><rect x="149.6" y="236.60" width="170.20" height="3.40" fill="url(#h43)"/><rect x="149.6" y="239.60" width="170.20" height="3.40" fill="url(#h44)"/><rect x="149.6" y="242.60" width="170.20" height="3.40" fill="url(#h45)"/><rect x="149.6" y="245.60" width="170.20" height="2.50" fill="url(#h46)"/>
<rect x="277.4" y="120.6" width="11.4" height="111.5" fill="url(#cb)"/>
<path d="M149.6 248.1V107.6H319.8" stroke="#15103a" stroke-width="0.8" fill="none"/>
<path d="M146.80 110.60H149.6M148.00 127.45H149.6M146.80 144.30H149.6M148.00 161.15H149.6M146.80 178.00H149.6M148.00 194.85H149.6M146.80 211.70H149.6M148.00 228.55H149.6M146.80 245.40H149.6M149.60 248.1V250.70M170.88 248.1V249.70M192.16 248.1V250.70M213.44 248.1V249.70M234.72 248.1V250.70M256.00 248.1V249.70M277.28 248.1V250.70M298.56 248.1V249.70M319.84 248.1V250.70" stroke="#444" stroke-width="0.9" fill="none"/>
<text x="144.3" y="115.00" font-size="12.9" text-anchor="end">8</text>
<text x="144.3" y="148.70" font-size="12.9" text-anchor="end">7</text>
<text x="144.3" y="182.40" font-size="12.9" text-anchor="end">6</text>
<text x="144.3" y="216.10" font-size="12.9" text-anchor="end">5</text>
<text x="144.3" y="249.80" font-size="12.9" text-anchor="end">4</text>
<text x="149.00" y="263.4" font-size="12.8" text-anchor="middle">400</text>
<text x="191.63" y="263.4" font-size="12.8" text-anchor="middle">450</text>
<text x="234.26" y="263.4" font-size="12.8" text-anchor="middle">500</text>
<text x="276.89" y="263.4" font-size="12.8" text-anchor="middle">550</text>
<text x="319.52" y="263.4" font-size="12.8" text-anchor="middle">600</text>
<text x="234.6" y="282.8" font-size="13.3" text-anchor="middle">Wavelength (nm)</text>
<text transform="translate(129.6 178) rotate(-90)" font-size="12.9" text-anchor="middle">Voltage (V)</text>
<text transform="translate(266.8 177.2) rotate(-90)" font-size="11.8" text-anchor="middle" fill="#fff">EL Intensity (arb. units)</text>
<text x="296.2" y="127.0" font-size="12" font-weight="normal" stroke="#fff" stroke-width="0.35" fill="#fff">1.0</text>
<text x="296.2" y="239.2" font-size="12" font-weight="normal" stroke="#fff" stroke-width="0.35" fill="#fff">0.0</text>
<clipPath id="tri"><path d="M388.5 107.8H561.6V248.2H547.8L388.5 175.8Z"/></clipPath>
<g clip-path="url(#tri)">
<rect x="388.50" y="107.80" width="58.20" height="23.90" fill="rgb(58,68,255)"/>
<rect x="446.20" y="107.80" width="58.20" height="23.90" fill="rgb(48,44,255)"/>
<rect x="503.90" y="107.80" width="58.20" height="23.90" fill="rgb(40,26,255)"/>
<rect x="388.50" y="131.20" width="58.20" height="23.90" fill="rgb(50,52,255)"/>
<rect x="446.20" y="131.20" width="58.20" height="23.90" fill="rgb(40,30,255)"/>
<rect x="503.90" y="131.20" width="58.20" height="23.90" fill="rgb(30,12,255)"/>
<rect x="388.50" y="154.60" width="58.20" height="23.90" fill="rgb(42,36,252)"/>
<rect x="446.20" y="154.60" width="58.20" height="23.90" fill="rgb(32,18,252)"/>
<rect x="503.90" y="154.60" width="58.20" height="23.90" fill="rgb(24,4,255)"/>
<rect x="388.50" y="178.00" width="58.20" height="23.90" fill="rgb(34,26,250)"/>
<rect x="446.20" y="178.00" width="58.20" height="23.90" fill="rgb(26,14,252)"/>
<rect x="503.90" y="178.00" width="58.20" height="23.90" fill="rgb(20,4,255)"/>
<rect x="388.50" y="201.40" width="58.20" height="23.90" fill="rgb(30,18,250)"/>
<rect x="446.20" y="201.40" width="58.20" height="23.90" fill="rgb(24,8,252)"/>
<rect x="503.90" y="201.40" width="58.20" height="23.90" fill="rgb(20,2,255)"/>
<rect x="388.50" y="224.80" width="58.20" height="23.90" fill="rgb(28,12,250)"/>
<rect x="446.20" y="224.80" width="58.20" height="23.90" fill="rgb(22,4,252)"/>
<rect x="503.90" y="224.80" width="58.20" height="23.90" fill="rgb(20,0,255)"/>
</g>
<path d="M388.5 107.8H561.6V248.2H388.5Z" stroke="#222" stroke-width="0.9" fill="none"/>
<path d="M385.30 107.80H388.5M386.70 121.87H388.5M385.30 135.94H388.5M386.70 150.01H388.5M385.30 164.08H388.5M386.70 178.15H388.5M385.30 192.22H388.5M386.70 206.29H388.5M385.30 220.36H388.5M386.70 234.43H388.5M385.30 248.50H388.5M388.50 248.2V251.40M431.77 248.2V250.00M475.05 248.2V251.40M518.33 248.2V250.00M561.60 248.2V251.40" stroke="#333" stroke-width="0.9" fill="none"/>
<text x="384.2" y="112.70" font-size="14" text-anchor="end">0.060</text>
<text x="384.2" y="140.84" font-size="14" text-anchor="end">0.055</text>
<text x="384.2" y="168.98" font-size="14" text-anchor="end">0.050</text>
<text x="384.2" y="197.12" font-size="14" text-anchor="end">0.045</text>
<text x="384.2" y="225.26" font-size="14" text-anchor="end">0.040</text>
<text x="384.2" y="253.40" font-size="14" text-anchor="end">0.035</text>
<text x="388.60" y="264.7" font-size="14" text-anchor="middle">0.130</text>
<text x="475.05" y="264.7" font-size="14" text-anchor="middle">0.135</text>
<text x="561.50" y="264.7" font-size="14" text-anchor="middle">0.140</text>
<text x="475.1" y="283.4" font-size="14" text-anchor="middle">x</text>
<text transform="translate(343.6 177.6) rotate(-90)" font-size="14" text-anchor="middle">y</text>
<circle cx="494.8" cy="186.2" r="2.4" fill="#3f7fb8" stroke="#c4ccff" stroke-width="1.1"/>
<text x="517" y="204.2" font-size="14" text-anchor="middle" fill="#f0f0ff">(0.136, 0.046)</text>
</svg>
</body></html>
